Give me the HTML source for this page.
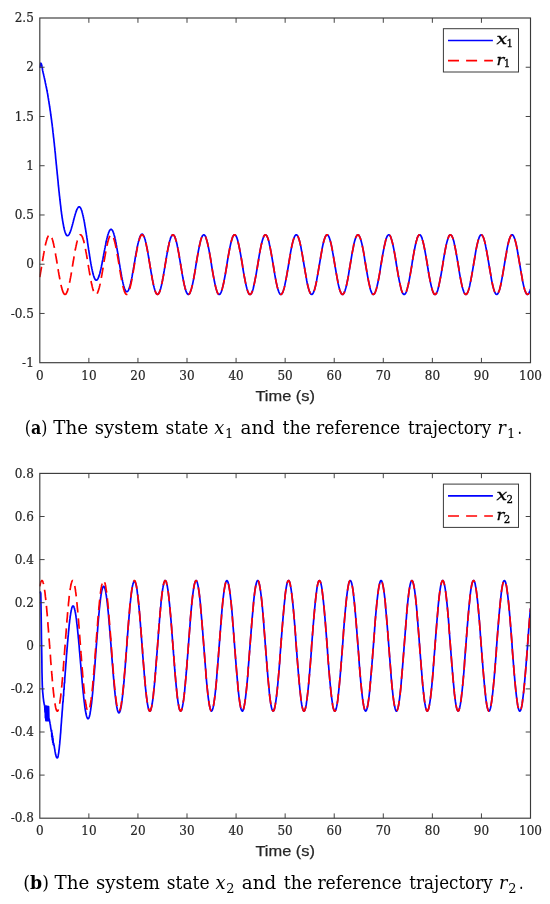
<!DOCTYPE html>
<html><head><meta charset="utf-8"><title>Figure</title>
<style>html,body{margin:0;padding:0;background:#fff}svg{display:block}</style>
</head><body>
<svg width="550" height="904" viewBox="0 0 550 904">
<rect width="550" height="904" fill="#fff"/>
<defs><clipPath id="c1"><rect x="39.3" y="18.0" width="491.7" height="344.7"/></clipPath><clipPath id="c2"><rect x="39.3" y="473.4" width="491.7" height="344.80000000000007"/></clipPath></defs>
<g clip-path="url(#c1)" fill="none" stroke-linejoin="round">
<path d="M39.8,67.8 L40.0,66.4 L40.3,65.1 L40.5,63.9 L40.8,63.2 L41.0,63.4 L41.3,63.8 L41.5,64.4 L41.8,65.4 L42.0,66.7 L42.3,68.1 L42.5,69.5 L42.7,70.9 L43.0,72.0 L43.2,73.0 L43.5,74.1 L43.7,75.2 L44.0,76.3 L44.2,77.4 L44.5,78.5 L44.7,79.6 L45.0,80.7 L45.2,81.9 L45.4,83.0 L45.7,84.2 L45.9,85.4 L46.2,86.6 L46.4,87.8 L46.7,89.1 L46.9,90.3 L47.2,91.6 L47.4,92.9 L47.7,94.3 L47.9,95.7 L48.1,97.2 L48.4,98.7 L48.6,100.2 L48.9,101.7 L49.1,103.3 L49.4,104.9 L49.6,106.5 L49.9,108.2 L50.1,109.8 L50.4,111.5 L50.6,113.2 L50.8,115.0 L51.1,116.7 L51.3,118.5 L51.6,120.4 L51.8,122.3 L52.1,124.2 L52.3,126.2 L52.6,128.3 L52.8,130.3 L53.0,132.4 L53.3,134.6 L53.5,136.8 L53.8,139.0 L54.0,141.3 L54.3,143.7 L54.5,146.0 L54.8,148.4 L55.0,150.9 L55.3,153.3 L55.5,155.8 L55.7,158.3 L56.0,160.8 L56.2,163.3 L56.5,165.8 L56.7,168.3 L57.0,170.8 L57.2,173.3 L57.5,175.8 L57.7,178.3 L58.0,180.8 L58.2,183.2 L58.4,185.7 L58.7,188.1 L58.9,190.5 L59.2,192.8 L59.4,195.1 L59.7,197.4 L59.9,199.7 L60.2,201.8 L60.4,204.0 L60.7,206.1 L60.9,208.1 L61.1,210.1 L61.4,212.0 L61.6,213.8 L61.9,215.6 L62.1,217.3 L62.4,219.0 L62.6,220.6 L62.9,222.1 L63.1,223.5 L63.4,224.8 L63.6,226.1 L63.8,227.3 L64.1,228.4 L64.3,229.5 L64.6,230.4 L64.8,231.3 L65.1,232.1 L65.3,232.8 L65.6,233.5 L65.8,234.0 L66.1,234.5 L66.3,234.9 L66.5,235.2 L66.8,235.4 L67.0,235.6 L67.3,235.7 L67.5,235.7 L67.8,235.7 L68.0,235.6 L68.3,235.4 L68.5,235.1 L68.8,234.8 L69.0,234.5 L69.2,234.1 L69.5,233.6 L69.7,233.1 L70.0,232.5 L70.2,231.9 L70.5,231.3 L70.7,230.6 L71.0,229.8 L71.2,229.0 L71.5,228.2 L71.7,227.4 L71.9,226.6 L72.2,225.7 L72.4,224.8 L72.7,223.9 L72.9,222.9 L73.2,222.0 L73.4,221.0 L73.7,220.1 L73.9,219.1 L74.1,218.2 L74.4,217.3 L74.6,216.4 L74.9,215.5 L75.1,214.7 L75.4,213.8 L75.6,213.0 L75.9,212.3 L76.1,211.6 L76.4,210.9 L76.6,210.3 L76.8,209.7 L77.1,209.1 L77.3,208.6 L77.6,208.2 L77.8,207.8 L78.1,207.5 L78.3,207.2 L78.6,207.0 L78.8,206.9 L79.1,206.8 L79.3,206.8 L79.5,206.9 L79.8,207.0 L80.0,207.3 L80.3,207.5 L80.5,207.9 L80.8,208.3 L81.0,208.9 L81.3,209.4 L81.5,210.1 L81.8,210.8 L82.0,211.6 L82.2,212.5 L82.5,213.4 L82.7,214.4 L83.0,215.4 L83.2,216.5 L83.5,217.7 L83.7,218.9 L84.0,220.1 L84.2,221.4 L84.5,222.8 L84.7,224.2 L84.9,225.6 L85.2,227.1 L85.4,228.5 L85.7,230.1 L85.9,231.6 L86.2,233.2 L86.4,234.7 L86.7,236.3 L86.9,237.9 L87.2,239.6 L87.4,241.2 L87.6,242.8 L87.9,244.5 L88.1,246.1 L88.4,247.8 L88.6,249.4 L88.9,251.0 L89.1,252.6 L89.4,254.2 L89.6,255.8 L89.9,257.3 L90.1,258.9 L90.3,260.3 L90.6,261.8 L90.8,263.2 L91.1,264.6 L91.3,265.9 L91.6,267.2 L91.8,268.4 L92.1,269.6 L92.3,270.7 L92.6,271.8 L92.8,272.8 L93.0,273.8 L93.3,274.7 L93.5,275.5 L93.8,276.3 L94.0,277.0 L94.3,277.6 L94.5,278.2 L94.8,278.7 L95.0,279.1 L95.2,279.5 L95.5,279.7 L95.7,280.0 L96.0,280.1 L96.2,280.2 L96.5,280.2 L96.7,280.1 L97.0,280.0 L97.2,279.7 L97.5,279.4 L97.7,279.1 L97.9,278.7 L98.2,278.2 L98.4,277.6 L98.7,277.0 L98.9,276.3 L99.2,275.6 L99.4,274.8 L99.7,274.0 L99.9,273.1 L100.2,272.1 L100.4,271.1 L100.6,270.1 L100.9,269.0 L101.1,267.9 L101.4,266.7 L101.6,265.5 L101.9,264.3 L102.1,263.0 L102.4,261.8 L102.6,260.5 L102.9,259.2 L103.1,257.9 L103.3,256.6 L103.6,255.2 L103.8,253.9 L104.1,252.6 L104.3,251.3 L104.6,249.9 L104.8,248.6 L105.1,247.4 L105.3,246.1 L105.6,244.9 L105.8,243.7 L106.0,242.5 L106.3,241.3 L106.5,240.2 L106.8,239.2 L107.0,238.1 L107.3,237.2 L107.5,236.2 L107.8,235.3 L108.0,234.5 L108.3,233.7 L108.5,233.0 L108.7,232.4 L109.0,231.8 L109.2,231.2 L109.5,230.8 L109.7,230.3 L110.0,230.0 L110.2,229.7 L110.5,229.5 L110.7,229.4 L111.0,229.3 L111.2,229.3 L111.4,229.4 L111.7,229.5 L111.9,229.8 L112.2,230.1 L112.4,230.4 L112.7,230.9 L112.9,231.4 L113.2,232.0 L113.4,232.6 L113.7,233.3 L113.9,234.1 L114.1,234.9 L114.4,235.8 L114.6,236.8 L114.9,237.8 L115.1,238.9 L115.4,240.0 L115.6,241.2 L115.9,242.4 L116.1,243.7 L116.3,245.0 L116.6,246.3 L116.8,247.7 L117.1,249.1 L117.3,250.6 L117.6,252.0 L117.8,253.5 L118.1,255.0 L118.3,256.5 L118.6,258.0 L118.8,259.6 L119.0,261.1 L119.3,262.6 L119.5,264.1 L119.8,265.7 L120.0,267.2 L120.3,268.7 L120.5,270.1 L120.8,271.6 L121.0,273.0 L121.3,274.4 L121.5,275.7 L121.7,277.0 L122.0,278.3 L122.2,279.5 L122.5,280.7 L122.7,281.9 L123.0,283.0 L123.2,284.0 L123.5,285.0 L123.7,285.9 L124.0,286.8 L124.2,287.5 L124.4,288.3 L124.7,288.9 L124.9,289.5 L125.2,290.1 L125.4,290.5 L125.7,290.9 L125.9,291.2 L126.2,291.4 L126.4,291.6 L126.7,291.7 L126.9,291.7 L127.1,291.6 L127.4,291.5 L127.6,291.3 L127.9,291.0 L128.1,290.7 L128.4,290.2 L128.6,289.8 L128.9,289.2 L129.1,288.6 L129.4,287.9 L129.6,287.1 L129.8,286.3 L130.1,285.4 L130.3,284.5 L130.6,283.5 L130.8,282.4 L131.1,281.3 L131.3,280.2 L131.6,279.0 L131.8,277.8 L132.1,276.5 L132.3,275.2 L132.5,273.9 L132.8,272.5 L133.0,271.1 L133.3,269.7 L133.5,268.3 L133.8,266.9 L134.0,265.4 L134.3,264.0 L134.5,262.5 L134.8,261.1 L135.0,259.6 L135.2,258.2 L135.5,256.8 L135.7,255.4 L136.0,254.0 L136.2,252.6 L136.5,251.3 L136.7,250.0 L137.0,248.7 L137.2,247.4 L137.4,246.2 L137.7,245.1 L137.9,244.0 L138.2,242.9 L138.4,241.9 L138.7,240.9 L138.9,240.0 L139.2,239.2 L139.4,238.4 L139.7,237.6 L139.9,237.0 L140.1,236.4 L140.4,235.9 L140.6,235.4 L140.9,235.0 L141.1,234.7 L141.4,234.5 L141.6,234.3 L141.9,234.2 L142.1,234.2 L142.4,234.2 L142.6,234.3 L142.8,234.5 L143.1,234.8 L143.3,235.2 L143.6,235.6 L143.8,236.1 L144.1,236.6 L144.3,237.3 L144.6,237.9 L144.8,238.7 L145.1,239.5 L145.3,240.4 L145.5,241.4 L145.8,242.3 L146.0,243.4 L146.3,244.5 L146.5,245.7 L146.8,246.9 L147.0,248.1 L147.3,249.4 L147.5,250.7 L147.8,252.1 L148.0,253.5 L148.2,254.9 L148.5,256.3 L148.7,257.8 L149.0,259.2 L149.2,260.7 L149.5,262.2 L149.7,263.7 L150.0,265.2 L150.2,266.7 L150.5,268.2 L150.7,269.7 L150.9,271.1 L151.2,272.6 L151.4,274.0 L151.7,275.4 L151.9,276.8 L152.2,278.2 L152.4,279.5 L152.7,280.7 L152.9,282.0 L153.2,283.2 L153.4,284.3 L153.6,285.4 L153.9,286.4 L154.1,287.4 L154.4,288.4 L154.6,289.2 L154.9,290.0 L155.1,290.8 L155.4,291.5 L155.6,292.1 L155.9,292.6 L156.1,293.1 L156.3,293.5 L156.6,293.8 L156.8,294.0 L157.1,294.2 L157.3,294.3 L157.6,294.3 L157.8,294.3 L158.1,294.2 L158.3,294.0 L158.5,293.7 L158.8,293.4 L159.0,293.0 L159.3,292.5 L159.5,291.9 L159.8,291.3 L160.0,290.6 L160.3,289.9 L160.5,289.0 L160.8,288.2 L161.0,287.2 L161.2,286.2 L161.5,285.2 L161.7,284.1 L162.0,282.9 L162.2,281.7 L162.5,280.5 L162.7,279.2 L163.0,277.9 L163.2,276.5 L163.5,275.2 L163.7,273.8 L163.9,272.3 L164.2,270.9 L164.4,269.4 L164.7,267.9 L164.9,266.5 L165.2,265.0 L165.4,263.5 L165.7,262.0 L165.9,260.5 L166.2,259.0 L166.4,257.6 L166.6,256.1 L166.9,254.7 L167.1,253.3 L167.4,252.0 L167.6,250.6 L167.9,249.3 L168.1,248.1 L168.4,246.8 L168.6,245.7 L168.9,244.5 L169.1,243.5 L169.3,242.4 L169.6,241.5 L169.8,240.6 L170.1,239.7 L170.3,238.9 L170.6,238.2 L170.8,237.5 L171.1,236.9 L171.3,236.4 L171.6,236.0 L171.8,235.6 L172.0,235.3 L172.3,235.0 L172.5,234.9 L172.8,234.8 L173.0,234.8 L173.3,234.8 L173.5,235.0 L173.8,235.2 L174.0,235.5 L174.3,235.8 L174.5,236.2 L174.7,236.7 L175.0,237.3 L175.2,238.0 L175.5,238.7 L175.7,239.4 L176.0,240.3 L176.2,241.2 L176.5,242.1 L176.7,243.1 L177.0,244.2 L177.2,245.3 L177.4,246.4 L177.7,247.7 L177.9,248.9 L178.2,250.2 L178.4,251.5 L178.7,252.9 L178.9,254.3 L179.2,255.7 L179.4,257.1 L179.6,258.6 L179.9,260.0 L180.1,261.5 L180.4,263.0 L180.6,264.5 L180.9,266.0 L181.1,267.5 L181.4,268.9 L181.6,270.4 L181.9,271.9 L182.1,273.3 L182.3,274.7 L182.6,276.1 L182.8,277.5 L183.1,278.8 L183.3,280.1 L183.6,281.4 L183.8,282.6 L184.1,283.7 L184.3,284.9 L184.6,285.9 L184.8,286.9 L185.0,287.9 L185.3,288.8 L185.5,289.6 L185.8,290.4 L186.0,291.1 L186.3,291.8 L186.5,292.4 L186.8,292.9 L187.0,293.3 L187.5,294.0 L188.0,294.4 L188.5,294.4 L189.0,294.2 L189.5,293.7 L190.0,292.9 L190.4,291.8 L190.9,290.4 L191.4,288.8 L191.9,286.9 L192.4,284.9 L192.9,282.6 L193.4,280.1 L193.9,277.5 L194.4,274.7 L194.9,271.9 L195.4,268.9 L195.8,266.0 L196.3,263.0 L196.8,260.0 L197.3,257.1 L197.8,254.3 L198.3,251.5 L198.8,248.9 L199.3,246.5 L199.8,244.2 L200.3,242.1 L200.7,240.3 L201.2,238.7 L201.7,237.3 L202.2,236.3 L202.7,235.5 L203.2,235.0 L203.7,234.8 L204.2,234.9 L204.7,235.3 L205.2,236.0 L205.7,236.9 L206.1,238.2 L206.6,239.7 L207.1,241.5 L207.6,243.5 L208.1,245.7 L208.6,248.1 L209.1,250.6 L209.6,253.3 L210.1,256.1 L210.6,259.0 L211.1,262.0 L211.5,265.0 L212.0,268.0 L212.5,270.9 L213.0,273.8 L213.5,276.6 L214.0,279.2 L214.5,281.8 L215.0,284.1 L215.5,286.3 L216.0,288.2 L216.5,289.9 L216.9,291.4 L217.4,292.6 L217.9,293.5 L218.4,294.1 L218.9,294.4 L219.4,294.4 L219.9,294.2 L220.4,293.6 L220.9,292.7 L221.4,291.6 L221.8,290.2 L222.3,288.5 L222.8,286.6 L223.3,284.5 L223.8,282.2 L224.3,279.7 L224.8,277.0 L225.3,274.3 L225.8,271.4 L226.3,268.5 L226.8,265.5 L227.2,262.5 L227.7,259.5 L228.2,256.6 L228.7,253.8 L229.2,251.1 L229.7,248.5 L230.2,246.1 L230.7,243.8 L231.2,241.8 L231.7,240.0 L232.2,238.4 L232.6,237.1 L233.1,236.1 L233.6,235.4 L234.1,234.9 L234.6,234.8 L235.1,234.9 L235.6,235.4 L236.1,236.1 L236.6,237.1 L237.1,238.4 L237.6,240.0 L238.0,241.8 L238.5,243.8 L239.0,246.1 L239.5,248.5 L240.0,251.1 L240.5,253.8 L241.0,256.6 L241.5,259.5 L242.0,262.5 L242.5,265.5 L242.9,268.5 L243.4,271.4 L243.9,274.3 L244.4,277.0 L244.9,279.7 L245.4,282.2 L245.9,284.5 L246.4,286.6 L246.9,288.5 L247.4,290.2 L247.9,291.6 L248.3,292.7 L248.8,293.6 L249.3,294.2 L249.8,294.4 L250.3,294.4 L250.8,294.1 L251.3,293.5 L251.8,292.6 L252.3,291.4 L252.8,289.9 L253.3,288.2 L253.7,286.3 L254.2,284.1 L254.7,281.8 L255.2,279.2 L255.7,276.6 L256.2,273.8 L256.7,270.9 L257.2,268.0 L257.7,265.0 L258.2,262.0 L258.7,259.0 L259.1,256.1 L259.6,253.3 L260.1,250.6 L260.6,248.1 L261.1,245.7 L261.6,243.5 L262.1,241.5 L262.6,239.7 L263.1,238.2 L263.6,236.9 L264.0,236.0 L264.5,235.3 L265.0,234.9 L265.5,234.8 L266.0,235.0 L266.5,235.5 L267.0,236.3 L267.5,237.3 L268.0,238.7 L268.5,240.3 L269.0,242.1 L269.4,244.2 L269.9,246.5 L270.4,248.9 L270.9,251.5 L271.4,254.3 L271.9,257.1 L272.4,260.0 L272.9,263.0 L273.4,266.0 L273.9,269.0 L274.4,271.9 L274.8,274.7 L275.3,277.5 L275.8,280.1 L276.3,282.6 L276.8,284.9 L277.3,287.0 L277.8,288.8 L278.3,290.4 L278.8,291.8 L279.3,292.9 L279.8,293.7 L280.2,294.2 L280.7,294.4 L281.2,294.4 L281.7,294.0 L282.2,293.3 L282.7,292.4 L283.2,291.1 L283.7,289.6 L284.2,287.9 L284.7,285.9 L285.1,283.7 L285.6,281.3 L286.1,278.8 L286.6,276.1 L287.1,273.3 L287.6,270.4 L288.1,267.5 L288.6,264.5 L289.1,261.5 L289.6,258.5 L290.1,255.7 L290.5,252.9 L291.0,250.2 L291.5,247.6 L292.0,245.3 L292.5,243.1 L293.0,241.1 L293.5,239.4 L294.0,238.0 L294.5,236.7 L295.0,235.8 L295.5,235.2 L295.9,234.8 L296.4,234.8 L296.9,235.0 L297.4,235.6 L297.9,236.4 L298.4,237.5 L298.9,238.9 L299.4,240.6 L299.9,242.4 L300.4,244.6 L300.9,246.9 L301.3,249.3 L301.8,252.0 L302.3,254.7 L302.8,257.6 L303.3,260.5 L303.8,263.5 L304.3,266.5 L304.8,269.4 L305.3,272.4 L305.8,275.2 L306.3,277.9 L306.7,280.5 L307.2,283.0 L307.7,285.2 L308.2,287.3 L308.7,289.1 L309.2,290.7 L309.7,292.0 L310.2,293.0 L310.7,293.8 L311.2,294.3 L311.6,294.4 L312.1,294.3 L312.6,293.9 L313.1,293.2 L313.6,292.2 L314.1,290.9 L314.6,289.4 L315.1,287.6 L315.6,285.6 L316.1,283.3 L316.6,280.9 L317.0,278.4 L317.5,275.6 L318.0,272.8 L318.5,269.9 L319.0,267.0 L319.5,264.0 L320.0,261.0 L320.5,258.1 L321.0,255.2 L321.5,252.4 L322.0,249.7 L322.4,247.2 L322.9,244.9 L323.4,242.8 L323.9,240.8 L324.4,239.2 L324.9,237.7 L325.4,236.6 L325.9,235.7 L326.4,235.1 L326.9,234.8 L327.4,234.8 L327.8,235.1 L328.3,235.7 L328.8,236.6 L329.3,237.7 L329.8,239.2 L330.3,240.9 L330.8,242.8 L331.3,244.9 L331.8,247.3 L332.3,249.8 L332.7,252.4 L333.2,255.2 L333.7,258.1 L334.2,261.0 L334.7,264.0 L335.2,267.0 L335.7,269.9 L336.2,272.8 L336.7,275.7 L337.2,278.4 L337.7,281.0 L338.1,283.4 L338.6,285.6 L339.1,287.6 L339.6,289.4 L340.1,290.9 L340.6,292.2 L341.1,293.2 L341.6,293.9 L342.1,294.3 L342.6,294.4 L343.1,294.3 L343.5,293.8 L344.0,293.0 L344.5,292.0 L345.0,290.7 L345.5,289.1 L346.0,287.3 L346.5,285.2 L347.0,282.9 L347.5,280.5 L348.0,277.9 L348.5,275.2 L348.9,272.3 L349.4,269.4 L349.9,266.5 L350.4,263.5 L350.9,260.5 L351.4,257.6 L351.9,254.7 L352.4,251.9 L352.9,249.3 L353.4,246.8 L353.8,244.5 L354.3,242.4 L354.8,240.5 L355.3,238.9 L355.8,237.5 L356.3,236.4 L356.8,235.6 L357.3,235.0 L357.8,234.8 L358.3,234.8 L358.8,235.2 L359.2,235.8 L359.7,236.8 L360.2,238.0 L360.7,239.4 L361.2,241.2 L361.7,243.1 L362.2,245.3 L362.7,247.7 L363.2,250.2 L363.7,252.9 L364.2,255.7 L364.6,258.6 L365.1,261.5 L365.6,264.5 L366.1,267.5 L366.6,270.4 L367.1,273.3 L367.6,276.1 L368.1,278.8 L368.6,281.4 L369.1,283.8 L369.6,285.9 L370.0,287.9 L370.5,289.7 L371.0,291.2 L371.5,292.4 L372.0,293.3 L372.5,294.0 L373.0,294.4 L373.5,294.4 L374.0,294.2 L374.5,293.7 L374.9,292.9 L375.4,291.8 L375.9,290.4 L376.4,288.8 L376.9,286.9 L377.4,284.8 L377.9,282.5 L378.4,280.1 L378.9,277.5 L379.4,274.7 L379.9,271.8 L380.3,268.9 L380.8,266.0 L381.3,263.0 L381.8,260.0 L382.3,257.1 L382.8,254.2 L383.3,251.5 L383.8,248.9 L384.3,246.4 L384.8,244.2 L385.3,242.1 L385.7,240.2 L386.2,238.6 L386.7,237.3 L387.2,236.2 L387.7,235.5 L388.2,235.0 L388.7,234.8 L389.2,234.9 L389.7,235.3 L390.2,236.0 L390.7,236.9 L391.1,238.2 L391.6,239.7 L392.1,241.5 L392.6,243.5 L393.1,245.7 L393.6,248.1 L394.1,250.7 L394.6,253.4 L395.1,256.2 L395.6,259.1 L396.0,262.0 L396.5,265.0 L397.0,268.0 L397.5,270.9 L398.0,273.8 L398.5,276.6 L399.0,279.3 L399.5,281.8 L400.0,284.1 L400.5,286.3 L401.0,288.2 L401.4,289.9 L401.9,291.4 L402.4,292.6 L402.9,293.5 L403.4,294.1 L403.9,294.4 L404.4,294.4 L404.9,294.1 L405.4,293.6 L405.9,292.7 L406.4,291.6 L406.8,290.2 L407.3,288.5 L407.8,286.6 L408.3,284.5 L408.8,282.1 L409.3,279.6 L409.8,277.0 L410.3,274.2 L410.8,271.4 L411.3,268.4 L411.8,265.5 L412.2,262.5 L412.7,259.5 L413.2,256.6 L413.7,253.8 L414.2,251.0 L414.7,248.5 L415.2,246.0 L415.7,243.8 L416.2,241.8 L416.7,240.0 L417.1,238.4 L417.6,237.1 L418.1,236.1 L418.6,235.4 L419.1,234.9 L419.6,234.8 L420.1,234.9 L420.6,235.4 L421.1,236.1 L421.6,237.1 L422.1,238.4 L422.5,240.0 L423.0,241.8 L423.5,243.8 L424.0,246.1 L424.5,248.5 L425.0,251.1 L425.5,253.8 L426.0,256.7 L426.5,259.6 L427.0,262.5 L427.5,265.5 L427.9,268.5 L428.4,271.4 L428.9,274.3 L429.4,277.1 L429.9,279.7 L430.4,282.2 L430.9,284.5 L431.4,286.6 L431.9,288.5 L432.4,290.2 L432.9,291.6 L433.3,292.7 L433.8,293.6 L434.3,294.2 L434.8,294.4 L435.3,294.4 L435.8,294.1 L436.3,293.5 L436.8,292.5 L437.3,291.4 L437.8,289.9 L438.2,288.2 L438.7,286.3 L439.2,284.1 L439.7,281.7 L440.2,279.2 L440.7,276.5 L441.2,273.8 L441.7,270.9 L442.2,267.9 L442.7,264.9 L443.2,262.0 L443.6,259.0 L444.1,256.1 L444.6,253.3 L445.1,250.6 L445.6,248.0 L446.1,245.6 L446.6,243.4 L447.1,241.4 L447.6,239.7 L448.1,238.2 L448.6,236.9 L449.0,235.9 L449.5,235.3 L450.0,234.9 L450.5,234.8 L451.0,235.0 L451.5,235.5 L452.0,236.3 L452.5,237.3 L453.0,238.7 L453.5,240.3 L454.0,242.1 L454.4,244.2 L454.9,246.5 L455.4,248.9 L455.9,251.5 L456.4,254.3 L456.9,257.1 L457.4,260.1 L457.9,263.0 L458.4,266.0 L458.9,269.0 L459.3,271.9 L459.8,274.8 L460.3,277.5 L460.8,280.1 L461.3,282.6 L461.8,284.9 L462.3,287.0 L462.8,288.8 L463.3,290.4 L463.8,291.8 L464.3,292.9 L464.7,293.7 L465.2,294.2 L465.7,294.4 L466.2,294.4 L466.7,294.0 L467.2,293.3 L467.7,292.4 L468.2,291.1 L468.7,289.6 L469.2,287.9 L469.7,285.9 L470.1,283.7 L470.6,281.3 L471.1,278.8 L471.6,276.1 L472.1,273.3 L472.6,270.4 L473.1,267.4 L473.6,264.4 L474.1,261.5 L474.6,258.5 L475.1,255.6 L475.5,252.8 L476.0,250.2 L476.5,247.6 L477.0,245.3 L477.5,243.1 L478.0,241.1 L478.5,239.4 L479.0,237.9 L479.5,236.7 L480.0,235.8 L480.4,235.2 L480.9,234.8 L481.4,234.8 L481.9,235.0 L482.4,235.6 L482.9,236.4 L483.4,237.5 L483.9,238.9 L484.4,240.6 L484.9,242.5 L485.4,244.6 L485.8,246.9 L486.3,249.4 L486.8,252.0 L487.3,254.8 L487.8,257.6 L488.3,260.6 L488.8,263.5 L489.3,266.5 L489.8,269.5 L490.3,272.4 L490.8,275.2 L491.2,278.0 L491.7,280.6 L492.2,283.0 L492.7,285.2 L493.2,287.3 L493.7,289.1 L494.2,290.7 L494.7,292.0 L495.2,293.1 L495.7,293.8 L496.2,294.3 L496.6,294.4 L497.1,294.3 L497.6,293.9 L498.1,293.2 L498.6,292.2 L499.1,290.9 L499.6,289.4 L500.1,287.6 L500.6,285.5 L501.1,283.3 L501.5,280.9 L502.0,278.3 L502.5,275.6 L503.0,272.8 L503.5,269.9 L504.0,266.9 L504.5,263.9 L505.0,261.0 L505.5,258.0 L506.0,255.2 L506.5,252.4 L506.9,249.7 L507.4,247.2 L507.9,244.9 L508.4,242.7 L508.9,240.8 L509.4,239.1 L509.9,237.7 L510.4,236.6 L510.9,235.7 L511.4,235.1 L511.9,234.8 L512.3,234.8 L512.8,235.1 L513.3,235.7 L513.8,236.6 L514.3,237.8 L514.8,239.2 L515.3,240.9 L515.8,242.8 L516.3,244.9 L516.8,247.3 L517.3,249.8 L517.7,252.5 L518.2,255.2 L518.7,258.1 L519.2,261.1 L519.7,264.0 L520.2,267.0 L520.7,270.0 L521.2,272.9 L521.7,275.7 L522.2,278.4 L522.6,281.0 L523.1,283.4 L523.6,285.6 L524.1,287.6 L524.6,289.4 L525.1,290.9 L525.6,292.2 L526.1,293.2 L526.6,293.9 L527.1,294.3 L527.6,294.4 L528.0,294.3 L528.5,293.8 L529.0,293.0 L529.5,292.0 L530.0,290.7 L530.5,289.1" stroke="#0000ff" stroke-width="1.7"/>
<path d="M39.8,277.0 L40.0,275.7 L40.3,274.3 L40.5,272.9 L40.8,271.4 L41.0,270.0 L41.3,268.5 L41.5,267.0 L41.8,265.5 L42.0,264.0 L42.3,262.5 L42.5,261.0 L42.7,259.6 L43.0,258.1 L43.2,256.6 L43.5,255.2 L43.7,253.8 L44.0,252.4 L44.2,251.1 L44.5,249.8 L44.7,248.5 L45.0,247.3 L45.2,246.1 L45.4,244.9 L45.7,243.8 L45.9,242.8 L46.2,241.8 L46.4,240.9 L46.7,240.0 L46.9,239.2 L47.2,238.4 L47.4,237.7 L47.7,237.1 L47.9,236.6 L48.1,236.1 L48.4,235.7 L48.6,235.4 L48.9,235.1 L49.1,234.9 L49.4,234.8 L49.6,234.8 L49.9,234.8 L50.1,234.9 L50.4,235.1 L50.6,235.4 L50.8,235.7 L51.1,236.1 L51.3,236.6 L51.6,237.1 L51.8,237.7 L52.1,238.4 L52.3,239.2 L52.6,240.0 L52.8,240.8 L53.0,241.8 L53.3,242.8 L53.5,243.8 L53.8,244.9 L54.0,246.0 L54.3,247.2 L54.5,248.5 L54.8,249.7 L55.0,251.1 L55.3,252.4 L55.5,253.8 L55.7,255.2 L56.0,256.6 L56.2,258.0 L56.5,259.5 L56.7,261.0 L57.0,262.5 L57.2,264.0 L57.5,265.5 L57.7,266.9 L58.0,268.4 L58.2,269.9 L58.4,271.4 L58.7,272.8 L58.9,274.2 L59.2,275.6 L59.4,277.0 L59.7,278.3 L59.9,279.7 L60.2,280.9 L60.4,282.2 L60.7,283.3 L60.9,284.5 L61.1,285.6 L61.4,286.6 L61.6,287.6 L61.9,288.5 L62.1,289.4 L62.4,290.2 L62.6,290.9 L62.9,291.6 L63.1,292.2 L63.4,292.7 L63.6,293.2 L63.8,293.6 L64.1,293.9 L64.3,294.1 L64.6,294.3 L64.8,294.4 L65.1,294.4 L65.3,294.4 L65.6,294.3 L65.8,294.1 L66.1,293.8 L66.3,293.5 L66.5,293.0 L66.8,292.6 L67.0,292.0 L67.3,291.4 L67.5,290.7 L67.8,289.9 L68.0,289.1 L68.3,288.2 L68.5,287.3 L68.8,286.3 L69.0,285.2 L69.2,284.1 L69.5,283.0 L69.7,281.8 L70.0,280.5 L70.2,279.3 L70.5,277.9 L70.7,276.6 L71.0,275.2 L71.2,273.8 L71.5,272.4 L71.7,270.9 L71.9,269.5 L72.2,268.0 L72.4,266.5 L72.7,265.0 L72.9,263.5 L73.2,262.0 L73.4,260.5 L73.7,259.1 L73.9,257.6 L74.1,256.2 L74.4,254.7 L74.6,253.4 L74.9,252.0 L75.1,250.6 L75.4,249.3 L75.6,248.1 L75.9,246.9 L76.1,245.7 L76.4,244.6 L76.6,243.5 L76.8,242.5 L77.1,241.5 L77.3,240.6 L77.6,239.7 L77.8,238.9 L78.1,238.2 L78.3,237.5 L78.6,236.9 L78.8,236.4 L79.1,236.0 L79.3,235.6 L79.5,235.3 L79.8,235.0 L80.0,234.9 L80.3,234.8 L80.5,234.8 L80.8,234.8 L81.0,235.0 L81.3,235.2 L81.5,235.5 L81.8,235.8 L82.0,236.2 L82.2,236.7 L82.5,237.3 L82.7,237.9 L83.0,238.7 L83.2,239.4 L83.5,240.3 L83.7,241.1 L84.0,242.1 L84.2,243.1 L84.5,244.2 L84.7,245.3 L84.9,246.4 L85.2,247.6 L85.4,248.9 L85.7,250.2 L85.9,251.5 L86.2,252.9 L86.4,254.2 L86.7,255.7 L86.9,257.1 L87.2,258.5 L87.4,260.0 L87.6,261.5 L87.9,263.0 L88.1,264.5 L88.4,266.0 L88.6,267.4 L88.9,268.9 L89.1,270.4 L89.4,271.9 L89.6,273.3 L89.9,274.7 L90.1,276.1 L90.3,277.5 L90.6,278.8 L90.8,280.1 L91.1,281.3 L91.3,282.6 L91.6,283.7 L91.8,284.8 L92.1,285.9 L92.3,286.9 L92.6,287.9 L92.8,288.8 L93.0,289.6 L93.3,290.4 L93.5,291.1 L93.8,291.8 L94.0,292.4 L94.3,292.9 L94.5,293.3 L94.8,293.7 L95.0,294.0 L95.2,294.2 L95.5,294.4 L95.7,294.4 L96.0,294.4 L96.2,294.4 L96.5,294.2 L96.7,294.0 L97.0,293.7 L97.2,293.3 L97.5,292.9 L97.7,292.4 L97.9,291.8 L98.2,291.2 L98.4,290.4 L98.7,289.7 L98.9,288.8 L99.2,287.9 L99.4,287.0 L99.7,285.9 L99.9,284.9 L100.2,283.7 L100.4,282.6 L100.6,281.4 L100.9,280.1 L101.1,278.8 L101.4,277.5 L101.6,276.1 L101.9,274.7 L102.1,273.3 L102.4,271.9 L102.6,270.4 L102.9,269.0 L103.1,267.5 L103.3,266.0 L103.6,264.5 L103.8,263.0 L104.1,261.5 L104.3,260.0 L104.6,258.6 L104.8,257.1 L105.1,255.7 L105.3,254.3 L105.6,252.9 L105.8,251.5 L106.0,250.2 L106.3,248.9 L106.5,247.7 L106.8,246.5 L107.0,245.3 L107.3,244.2 L107.5,243.1 L107.8,242.1 L108.0,241.2 L108.3,240.3 L108.5,239.4 L108.7,238.7 L109.0,238.0 L109.2,237.3 L109.5,236.8 L109.7,236.3 L110.0,235.8 L110.2,235.5 L110.5,235.2 L110.7,235.0 L111.0,234.8 L111.2,234.8 L111.4,234.8 L111.7,234.9 L111.9,235.0 L112.2,235.3 L112.4,235.6 L112.7,236.0 L112.9,236.4 L113.2,236.9 L113.4,237.5 L113.7,238.2 L113.9,238.9 L114.1,239.7 L114.4,240.5 L114.6,241.5 L114.9,242.4 L115.1,243.5 L115.4,244.5 L115.6,245.7 L115.9,246.8 L116.1,248.1 L116.3,249.3 L116.6,250.6 L116.8,252.0 L117.1,253.3 L117.3,254.7 L117.6,256.1 L117.8,257.6 L118.1,259.0 L118.3,260.5 L118.6,262.0 L118.8,263.5 L119.0,265.0 L119.3,266.5 L119.5,267.9 L119.8,269.4 L120.0,270.9 L120.3,272.3 L120.5,273.8 L120.8,275.2 L121.0,276.6 L121.3,277.9 L121.5,279.2 L121.7,280.5 L122.0,281.8 L122.2,283.0 L122.5,284.1 L122.7,285.2 L123.0,286.3 L123.2,287.3 L123.5,288.2 L123.7,289.1 L124.0,289.9 L124.2,290.7 L124.4,291.4 L124.7,292.0 L124.9,292.5 L125.2,293.0 L125.4,293.5 L125.7,293.8 L125.9,294.1 L126.2,294.3 L126.4,294.4 L126.7,294.4 L126.9,294.4 L127.1,294.3 L127.4,294.2 L127.6,293.9 L127.9,293.6 L128.1,293.2 L128.4,292.7 L128.6,292.2 L128.9,291.6 L129.1,290.9 L129.4,290.2 L129.6,289.4 L129.8,288.5 L130.1,287.6 L130.3,286.6 L130.6,285.6 L130.8,284.5 L131.1,283.4 L131.3,282.2 L131.6,281.0 L131.8,279.7 L132.1,278.4 L132.3,277.0 L132.5,275.7 L132.8,274.3 L133.0,272.8 L133.3,271.4 L133.5,269.9 L133.8,268.5 L134.0,267.0 L134.3,265.5 L134.5,264.0 L134.8,262.5 L135.0,261.0 L135.2,259.5 L135.5,258.1 L135.7,256.6 L136.0,255.2 L136.2,253.8 L136.5,252.4 L136.7,251.1 L137.0,249.8 L137.2,248.5 L137.4,247.3 L137.7,246.1 L137.9,244.9 L138.2,243.8 L138.4,242.8 L138.7,241.8 L138.9,240.9 L139.2,240.0 L139.4,239.2 L139.7,238.4 L139.9,237.7 L140.1,237.1 L140.4,236.6 L140.6,236.1 L140.9,235.7 L141.1,235.4 L141.4,235.1 L141.6,234.9 L141.9,234.8 L142.1,234.8 L142.4,234.8 L142.6,234.9 L142.8,235.1 L143.1,235.4 L143.3,235.7 L143.6,236.1 L143.8,236.6 L144.1,237.1 L144.3,237.7 L144.6,238.4 L144.8,239.2 L145.1,240.0 L145.3,240.8 L145.5,241.8 L145.8,242.8 L146.0,243.8 L146.3,244.9 L146.5,246.1 L146.8,247.2 L147.0,248.5 L147.3,249.8 L147.5,251.1 L147.8,252.4 L148.0,253.8 L148.2,255.2 L148.5,256.6 L148.7,258.1 L149.0,259.5 L149.2,261.0 L149.5,262.5 L149.7,264.0 L150.0,265.5 L150.2,267.0 L150.5,268.4 L150.7,269.9 L150.9,271.4 L151.2,272.8 L151.4,274.2 L151.7,275.6 L151.9,277.0 L152.2,278.4 L152.4,279.7 L152.7,280.9 L152.9,282.2 L153.2,283.3 L153.4,284.5 L153.6,285.6 L153.9,286.6 L154.1,287.6 L154.4,288.5 L154.6,289.4 L154.9,290.2 L155.1,290.9 L155.4,291.6 L155.6,292.2 L155.9,292.7 L156.1,293.2 L156.3,293.6 L156.6,293.9 L156.8,294.1 L157.1,294.3 L157.3,294.4 L157.6,294.4 L157.8,294.4 L158.1,294.3 L158.3,294.1 L158.5,293.8 L158.8,293.5 L159.0,293.0 L159.3,292.6 L159.5,292.0 L159.8,291.4 L160.0,290.7 L160.3,289.9 L160.5,289.1 L160.8,288.2 L161.0,287.3 L161.2,286.3 L161.5,285.2 L161.7,284.1 L162.0,283.0 L162.2,281.8 L162.5,280.5 L162.7,279.2 L163.0,277.9 L163.2,276.6 L163.5,275.2 L163.7,273.8 L163.9,272.4 L164.2,270.9 L164.4,269.4 L164.7,268.0 L164.9,266.5 L165.2,265.0 L165.4,263.5 L165.7,262.0 L165.9,260.5 L166.2,259.1 L166.4,257.6 L166.6,256.2 L166.9,254.7 L167.1,253.3 L167.4,252.0 L167.6,250.6 L167.9,249.3 L168.1,248.1 L168.4,246.9 L168.6,245.7 L168.9,244.5 L169.1,243.5 L169.3,242.4 L169.6,241.5 L169.8,240.6 L170.1,239.7 L170.3,238.9 L170.6,238.2 L170.8,237.5 L171.1,236.9 L171.3,236.4 L171.6,236.0 L171.8,235.6 L172.0,235.3 L172.3,235.0 L172.5,234.9 L172.8,234.8 L173.0,234.8 L173.3,234.8 L173.5,235.0 L173.8,235.2 L174.0,235.5 L174.3,235.8 L174.5,236.2 L174.7,236.7 L175.0,237.3 L175.2,238.0 L175.5,238.7 L175.7,239.4 L176.0,240.3 L176.2,241.2 L176.5,242.1 L176.7,243.1 L177.0,244.2 L177.2,245.3 L177.4,246.4 L177.7,247.7 L177.9,248.9 L178.2,250.2 L178.4,251.5 L178.7,252.9 L178.9,254.3 L179.2,255.7 L179.4,257.1 L179.6,258.6 L179.9,260.0 L180.1,261.5 L180.4,263.0 L180.6,264.5 L180.9,266.0 L181.1,267.5 L181.4,268.9 L181.6,270.4 L181.9,271.9 L182.1,273.3 L182.3,274.7 L182.6,276.1 L182.8,277.5 L183.1,278.8 L183.3,280.1 L183.6,281.4 L183.8,282.6 L184.1,283.7 L184.3,284.9 L184.6,285.9 L184.8,286.9 L185.0,287.9 L185.3,288.8 L185.5,289.6 L185.8,290.4 L186.0,291.1 L186.3,291.8 L186.5,292.4 L186.8,292.9 L187.0,293.3 L187.5,294.0 L188.0,294.4 L188.5,294.4 L189.0,294.2 L189.5,293.7 L190.0,292.9 L190.4,291.8 L190.9,290.4 L191.4,288.8 L191.9,286.9 L192.4,284.9 L192.9,282.6 L193.4,280.1 L193.9,277.5 L194.4,274.7 L194.9,271.9 L195.4,268.9 L195.8,266.0 L196.3,263.0 L196.8,260.0 L197.3,257.1 L197.8,254.3 L198.3,251.5 L198.8,248.9 L199.3,246.5 L199.8,244.2 L200.3,242.1 L200.7,240.3 L201.2,238.7 L201.7,237.3 L202.2,236.3 L202.7,235.5 L203.2,235.0 L203.7,234.8 L204.2,234.9 L204.7,235.3 L205.2,236.0 L205.7,236.9 L206.1,238.2 L206.6,239.7 L207.1,241.5 L207.6,243.5 L208.1,245.7 L208.6,248.1 L209.1,250.6 L209.6,253.3 L210.1,256.1 L210.6,259.0 L211.1,262.0 L211.5,265.0 L212.0,268.0 L212.5,270.9 L213.0,273.8 L213.5,276.6 L214.0,279.2 L214.5,281.8 L215.0,284.1 L215.5,286.3 L216.0,288.2 L216.5,289.9 L216.9,291.4 L217.4,292.6 L217.9,293.5 L218.4,294.1 L218.9,294.4 L219.4,294.4 L219.9,294.2 L220.4,293.6 L220.9,292.7 L221.4,291.6 L221.8,290.2 L222.3,288.5 L222.8,286.6 L223.3,284.5 L223.8,282.2 L224.3,279.7 L224.8,277.0 L225.3,274.3 L225.8,271.4 L226.3,268.5 L226.8,265.5 L227.2,262.5 L227.7,259.5 L228.2,256.6 L228.7,253.8 L229.2,251.1 L229.7,248.5 L230.2,246.1 L230.7,243.8 L231.2,241.8 L231.7,240.0 L232.2,238.4 L232.6,237.1 L233.1,236.1 L233.6,235.4 L234.1,234.9 L234.6,234.8 L235.1,234.9 L235.6,235.4 L236.1,236.1 L236.6,237.1 L237.1,238.4 L237.6,240.0 L238.0,241.8 L238.5,243.8 L239.0,246.1 L239.5,248.5 L240.0,251.1 L240.5,253.8 L241.0,256.6 L241.5,259.5 L242.0,262.5 L242.5,265.5 L242.9,268.5 L243.4,271.4 L243.9,274.3 L244.4,277.0 L244.9,279.7 L245.4,282.2 L245.9,284.5 L246.4,286.6 L246.9,288.5 L247.4,290.2 L247.9,291.6 L248.3,292.7 L248.8,293.6 L249.3,294.2 L249.8,294.4 L250.3,294.4 L250.8,294.1 L251.3,293.5 L251.8,292.6 L252.3,291.4 L252.8,289.9 L253.3,288.2 L253.7,286.3 L254.2,284.1 L254.7,281.8 L255.2,279.2 L255.7,276.6 L256.2,273.8 L256.7,270.9 L257.2,268.0 L257.7,265.0 L258.2,262.0 L258.7,259.0 L259.1,256.1 L259.6,253.3 L260.1,250.6 L260.6,248.1 L261.1,245.7 L261.6,243.5 L262.1,241.5 L262.6,239.7 L263.1,238.2 L263.6,236.9 L264.0,236.0 L264.5,235.3 L265.0,234.9 L265.5,234.8 L266.0,235.0 L266.5,235.5 L267.0,236.3 L267.5,237.3 L268.0,238.7 L268.5,240.3 L269.0,242.1 L269.4,244.2 L269.9,246.5 L270.4,248.9 L270.9,251.5 L271.4,254.3 L271.9,257.1 L272.4,260.0 L272.9,263.0 L273.4,266.0 L273.9,269.0 L274.4,271.9 L274.8,274.7 L275.3,277.5 L275.8,280.1 L276.3,282.6 L276.8,284.9 L277.3,287.0 L277.8,288.8 L278.3,290.4 L278.8,291.8 L279.3,292.9 L279.8,293.7 L280.2,294.2 L280.7,294.4 L281.2,294.4 L281.7,294.0 L282.2,293.3 L282.7,292.4 L283.2,291.1 L283.7,289.6 L284.2,287.9 L284.7,285.9 L285.1,283.7 L285.6,281.3 L286.1,278.8 L286.6,276.1 L287.1,273.3 L287.6,270.4 L288.1,267.5 L288.6,264.5 L289.1,261.5 L289.6,258.5 L290.1,255.7 L290.5,252.9 L291.0,250.2 L291.5,247.6 L292.0,245.3 L292.5,243.1 L293.0,241.1 L293.5,239.4 L294.0,238.0 L294.5,236.7 L295.0,235.8 L295.5,235.2 L295.9,234.8 L296.4,234.8 L296.9,235.0 L297.4,235.6 L297.9,236.4 L298.4,237.5 L298.9,238.9 L299.4,240.6 L299.9,242.4 L300.4,244.6 L300.9,246.9 L301.3,249.3 L301.8,252.0 L302.3,254.7 L302.8,257.6 L303.3,260.5 L303.8,263.5 L304.3,266.5 L304.8,269.4 L305.3,272.4 L305.8,275.2 L306.3,277.9 L306.7,280.5 L307.2,283.0 L307.7,285.2 L308.2,287.3 L308.7,289.1 L309.2,290.7 L309.7,292.0 L310.2,293.0 L310.7,293.8 L311.2,294.3 L311.6,294.4 L312.1,294.3 L312.6,293.9 L313.1,293.2 L313.6,292.2 L314.1,290.9 L314.6,289.4 L315.1,287.6 L315.6,285.6 L316.1,283.3 L316.6,280.9 L317.0,278.4 L317.5,275.6 L318.0,272.8 L318.5,269.9 L319.0,267.0 L319.5,264.0 L320.0,261.0 L320.5,258.1 L321.0,255.2 L321.5,252.4 L322.0,249.7 L322.4,247.2 L322.9,244.9 L323.4,242.8 L323.9,240.8 L324.4,239.2 L324.9,237.7 L325.4,236.6 L325.9,235.7 L326.4,235.1 L326.9,234.8 L327.4,234.8 L327.8,235.1 L328.3,235.7 L328.8,236.6 L329.3,237.7 L329.8,239.2 L330.3,240.9 L330.8,242.8 L331.3,244.9 L331.8,247.3 L332.3,249.8 L332.7,252.4 L333.2,255.2 L333.7,258.1 L334.2,261.0 L334.7,264.0 L335.2,267.0 L335.7,269.9 L336.2,272.8 L336.7,275.7 L337.2,278.4 L337.7,281.0 L338.1,283.4 L338.6,285.6 L339.1,287.6 L339.6,289.4 L340.1,290.9 L340.6,292.2 L341.1,293.2 L341.6,293.9 L342.1,294.3 L342.6,294.4 L343.1,294.3 L343.5,293.8 L344.0,293.0 L344.5,292.0 L345.0,290.7 L345.5,289.1 L346.0,287.3 L346.5,285.2 L347.0,282.9 L347.5,280.5 L348.0,277.9 L348.5,275.2 L348.9,272.3 L349.4,269.4 L349.9,266.5 L350.4,263.5 L350.9,260.5 L351.4,257.6 L351.9,254.7 L352.4,251.9 L352.9,249.3 L353.4,246.8 L353.8,244.5 L354.3,242.4 L354.8,240.5 L355.3,238.9 L355.8,237.5 L356.3,236.4 L356.8,235.6 L357.3,235.0 L357.8,234.8 L358.3,234.8 L358.8,235.2 L359.2,235.8 L359.7,236.8 L360.2,238.0 L360.7,239.4 L361.2,241.2 L361.7,243.1 L362.2,245.3 L362.7,247.7 L363.2,250.2 L363.7,252.9 L364.2,255.7 L364.6,258.6 L365.1,261.5 L365.6,264.5 L366.1,267.5 L366.6,270.4 L367.1,273.3 L367.6,276.1 L368.1,278.8 L368.6,281.4 L369.1,283.8 L369.6,285.9 L370.0,287.9 L370.5,289.7 L371.0,291.2 L371.5,292.4 L372.0,293.3 L372.5,294.0 L373.0,294.4 L373.5,294.4 L374.0,294.2 L374.5,293.7 L374.9,292.9 L375.4,291.8 L375.9,290.4 L376.4,288.8 L376.9,286.9 L377.4,284.8 L377.9,282.5 L378.4,280.1 L378.9,277.5 L379.4,274.7 L379.9,271.8 L380.3,268.9 L380.8,266.0 L381.3,263.0 L381.8,260.0 L382.3,257.1 L382.8,254.2 L383.3,251.5 L383.8,248.9 L384.3,246.4 L384.8,244.2 L385.3,242.1 L385.7,240.2 L386.2,238.6 L386.7,237.3 L387.2,236.2 L387.7,235.5 L388.2,235.0 L388.7,234.8 L389.2,234.9 L389.7,235.3 L390.2,236.0 L390.7,236.9 L391.1,238.2 L391.6,239.7 L392.1,241.5 L392.6,243.5 L393.1,245.7 L393.6,248.1 L394.1,250.7 L394.6,253.4 L395.1,256.2 L395.6,259.1 L396.0,262.0 L396.5,265.0 L397.0,268.0 L397.5,270.9 L398.0,273.8 L398.5,276.6 L399.0,279.3 L399.5,281.8 L400.0,284.1 L400.5,286.3 L401.0,288.2 L401.4,289.9 L401.9,291.4 L402.4,292.6 L402.9,293.5 L403.4,294.1 L403.9,294.4 L404.4,294.4 L404.9,294.1 L405.4,293.6 L405.9,292.7 L406.4,291.6 L406.8,290.2 L407.3,288.5 L407.8,286.6 L408.3,284.5 L408.8,282.1 L409.3,279.6 L409.8,277.0 L410.3,274.2 L410.8,271.4 L411.3,268.4 L411.8,265.5 L412.2,262.5 L412.7,259.5 L413.2,256.6 L413.7,253.8 L414.2,251.0 L414.7,248.5 L415.2,246.0 L415.7,243.8 L416.2,241.8 L416.7,240.0 L417.1,238.4 L417.6,237.1 L418.1,236.1 L418.6,235.4 L419.1,234.9 L419.6,234.8 L420.1,234.9 L420.6,235.4 L421.1,236.1 L421.6,237.1 L422.1,238.4 L422.5,240.0 L423.0,241.8 L423.5,243.8 L424.0,246.1 L424.5,248.5 L425.0,251.1 L425.5,253.8 L426.0,256.7 L426.5,259.6 L427.0,262.5 L427.5,265.5 L427.9,268.5 L428.4,271.4 L428.9,274.3 L429.4,277.1 L429.9,279.7 L430.4,282.2 L430.9,284.5 L431.4,286.6 L431.9,288.5 L432.4,290.2 L432.9,291.6 L433.3,292.7 L433.8,293.6 L434.3,294.2 L434.8,294.4 L435.3,294.4 L435.8,294.1 L436.3,293.5 L436.8,292.5 L437.3,291.4 L437.8,289.9 L438.2,288.2 L438.7,286.3 L439.2,284.1 L439.7,281.7 L440.2,279.2 L440.7,276.5 L441.2,273.8 L441.7,270.9 L442.2,267.9 L442.7,264.9 L443.2,262.0 L443.6,259.0 L444.1,256.1 L444.6,253.3 L445.1,250.6 L445.6,248.0 L446.1,245.6 L446.6,243.4 L447.1,241.4 L447.6,239.7 L448.1,238.2 L448.6,236.9 L449.0,235.9 L449.5,235.3 L450.0,234.9 L450.5,234.8 L451.0,235.0 L451.5,235.5 L452.0,236.3 L452.5,237.3 L453.0,238.7 L453.5,240.3 L454.0,242.1 L454.4,244.2 L454.9,246.5 L455.4,248.9 L455.9,251.5 L456.4,254.3 L456.9,257.1 L457.4,260.1 L457.9,263.0 L458.4,266.0 L458.9,269.0 L459.3,271.9 L459.8,274.8 L460.3,277.5 L460.8,280.1 L461.3,282.6 L461.8,284.9 L462.3,287.0 L462.8,288.8 L463.3,290.4 L463.8,291.8 L464.3,292.9 L464.7,293.7 L465.2,294.2 L465.7,294.4 L466.2,294.4 L466.7,294.0 L467.2,293.3 L467.7,292.4 L468.2,291.1 L468.7,289.6 L469.2,287.9 L469.7,285.9 L470.1,283.7 L470.6,281.3 L471.1,278.8 L471.6,276.1 L472.1,273.3 L472.6,270.4 L473.1,267.4 L473.6,264.4 L474.1,261.5 L474.6,258.5 L475.1,255.6 L475.5,252.8 L476.0,250.2 L476.5,247.6 L477.0,245.3 L477.5,243.1 L478.0,241.1 L478.5,239.4 L479.0,237.9 L479.5,236.7 L480.0,235.8 L480.4,235.2 L480.9,234.8 L481.4,234.8 L481.9,235.0 L482.4,235.6 L482.9,236.4 L483.4,237.5 L483.9,238.9 L484.4,240.6 L484.9,242.5 L485.4,244.6 L485.8,246.9 L486.3,249.4 L486.8,252.0 L487.3,254.8 L487.8,257.6 L488.3,260.6 L488.8,263.5 L489.3,266.5 L489.8,269.5 L490.3,272.4 L490.8,275.2 L491.2,278.0 L491.7,280.6 L492.2,283.0 L492.7,285.2 L493.2,287.3 L493.7,289.1 L494.2,290.7 L494.7,292.0 L495.2,293.1 L495.7,293.8 L496.2,294.3 L496.6,294.4 L497.1,294.3 L497.6,293.9 L498.1,293.2 L498.6,292.2 L499.1,290.9 L499.6,289.4 L500.1,287.6 L500.6,285.5 L501.1,283.3 L501.5,280.9 L502.0,278.3 L502.5,275.6 L503.0,272.8 L503.5,269.9 L504.0,266.9 L504.5,263.9 L505.0,261.0 L505.5,258.0 L506.0,255.2 L506.5,252.4 L506.9,249.7 L507.4,247.2 L507.9,244.9 L508.4,242.7 L508.9,240.8 L509.4,239.1 L509.9,237.7 L510.4,236.6 L510.9,235.7 L511.4,235.1 L511.9,234.8 L512.3,234.8 L512.8,235.1 L513.3,235.7 L513.8,236.6 L514.3,237.8 L514.8,239.2 L515.3,240.9 L515.8,242.8 L516.3,244.9 L516.8,247.3 L517.3,249.8 L517.7,252.5 L518.2,255.2 L518.7,258.1 L519.2,261.1 L519.7,264.0 L520.2,267.0 L520.7,270.0 L521.2,272.9 L521.7,275.7 L522.2,278.4 L522.6,281.0 L523.1,283.4 L523.6,285.6 L524.1,287.6 L524.6,289.4 L525.1,290.9 L525.6,292.2 L526.1,293.2 L526.6,293.9 L527.1,294.3 L527.6,294.4 L528.0,294.3 L528.5,293.8 L529.0,293.0 L529.5,292.0 L530.0,290.7 L530.5,289.1" stroke="#ff0000" stroke-width="1.7" stroke-dasharray="10.4 5.6 10.4 5.6 10.4 5.6 10.4 5.6 10.4 5.6 10.4 5.6 18 5.6 10.5 5.8 10.5 5.8 10.5 5.8 10.5 5.8 10.5 5.8 10.5 5.8 10.5 5.8 10.5 5.8 10.5 5.8 10.5 5.8 10.5 5.8 10.5 5.8 10.5 5.8 10.5 5.8 10.5 5.8 10.5 5.8 10.5 5.8 10.5 5.8 10.5 5.8 10.5 5.8 10.5 5.8 10.5 5.8 10.5 5.8 10.5 5.8 10.5 5.8 10.5 5.8 10.5 5.8 10.5 5.8 10.5 5.8 10.5 5.8 10.5 5.8 10.5 5.8 10.5 5.8 10.5 5.8 10.5 5.8 10.5 5.8 10.5 5.8 10.5 5.8 10.5 5.8 10.5 5.8 10.5 5.8 10.5 5.8 10.5 5.8 10.5 5.8 10.5 5.8 10.5 5.8 10.5 5.8 10.5 5.8 10.5 5.8 10.5 5.8 10.5 5.8 10.5 5.8 10.5 5.8 10.5 5.8 10.5 5.8 10.5 5.8 10.5 5.8 10.5 5.8 10.5 5.8 10.5 5.8 10.5 5.8 10.5 5.8 10.5 5.8 10.5 5.8 10.5 5.8 10.5 5.8 10.5 5.8 10.5 5.8 10.5 5.8 10.5 5.8 10.5 5.8 10.5 5.8 10.5 5.8 10.5 5.8 10.5 5.8 10.5 5.8 10.5 5.8 10.5 5.8 10.5 5.8 10.5 5.8 10.5 5.8 10.5 5.8 10.5 5.8 10.5 5.8 10.5 5.8 10.5 5.8 10.5 5.8 10.5 5.8 10.5 5.8 10.5 5.8 10.5 5.8 10.5 5.8 10.5 5.8 10.5 5.8 10.5 5.8 10.5 5.8 10.5 5.8 10.5 5.8 10.5 5.8 10.5 5.8 10.5 5.8 10.5 5.8 10.5 5.8 10.5 5.8 10.5 5.8 10.5 5.8 10.5 5.8 10.5 5.8 10.5 5.8 10.5 5.8 10.5 5.8 10.5 5.8 10.5 5.8 10.5 5.8 10.5 5.8 10.5 5.8 10.5 5.8 10.5 5.8 10.5 5.8 10.5 5.8 10.5 5.8 10.5 5.8 10.5 5.8 10.5 5.8 10.5 5.8 10.5 5.8 10.5 5.8 10.5 5.8 10.5 5.8 10.5 5.8 10.5 5.8 10.5 5.8 10.5 5.8 10.5 5.8 10.5 5.8 10.5 5.8 10.5 5.8 10.5 5.8 10.5 5.8 10.5 5.8 10.5 5.8 10.5 5.8 10.5 5.8 10.5 5.8 10.5 5.8 10.5 5.8 10.5 5.8 10.5 5.8 10.5 5.8 10.5 5.8 10.5 5.8 10.5 5.8 10.5 5.8 10.5 5.8 10.5 5.8 10.5 5.8 10.5 5.8 10.5 5.8 10.5 5.8 10.5 5.8 10.5 5.8 10.5 5.8 10.5 5.8 10.5 5.8 10.5 5.8 10.5 5.8 10.5 5.8 10.5 5.8 10.5 5.8 10.5 5.8 10.5 5.8 10.5 5.8 10.5 5.8 10.5 5.8 10.5 5.8 10.5 5.8 10.5 5.8 10.5 5.8 10.5 5.8 10.5 5.8 10.5 5.8 10.5 5.8 10.5 5.8 10.5 5.8 10.5 5.8 10.5 5.8 10.5 5.8 10.5 5.8 10.5 5.8 10.5 5.8 10.5 5.8 10.5 5.8 10.5 5.8 10.5 5.8 10.5 5.8 10.5 5.8 10.5 5.8 10.5 5.8 10.5 5.8 10.5 5.8 10.5 5.8 10.5 5.8 10.5 5.8 10.5 5.8 10.5 5.8 10.5 5.8 10.5 5.8 10.5 5.8 10.5 5.8 10.5 5.8 10.5 5.8 10.5 5.8 10.5 5.8 10.5 5.8 10.5 5.8"/>
</g>
<g stroke="#3a3a3a" stroke-width="1.15" fill="none">
<rect x="39.8" y="18.0" width="490.7" height="344.7"/>
<path stroke="#3a3a3a" stroke-width="0.95" d="M88.87,362.7v-4.8M88.87,18.0v4.8M137.94,362.7v-4.8M137.94,18.0v4.8M187.01,362.7v-4.8M187.01,18.0v4.8M236.08,362.7v-4.8M236.08,18.0v4.8M285.15,362.7v-4.8M285.15,18.0v4.8M334.22,362.7v-4.8M334.22,18.0v4.8M383.29,362.7v-4.8M383.29,18.0v4.8M432.36,362.7v-4.8M432.36,18.0v4.8M481.43,362.7v-4.8M481.43,18.0v4.8M39.8,67.24h4.8M530.5,67.24h-4.8M39.8,116.49h4.8M530.5,116.49h-4.8M39.8,165.73h4.8M530.5,165.73h-4.8M39.8,214.97h4.8M530.5,214.97h-4.8M39.8,264.21h4.8M530.5,264.21h-4.8M39.8,313.46h4.8M530.5,313.46h-4.8"/>
</g>
<g font-family="'DejaVu Serif','Liberation Serif',serif" font-size="12.0" fill="#262626" stroke="#262626" stroke-width="0.2">
<text x="39.8" y="379.7" text-anchor="middle">0</text>
<text x="88.9" y="379.7" text-anchor="middle">10</text>
<text x="137.9" y="379.7" text-anchor="middle">20</text>
<text x="187.0" y="379.7" text-anchor="middle">30</text>
<text x="236.1" y="379.7" text-anchor="middle">40</text>
<text x="285.1" y="379.7" text-anchor="middle">50</text>
<text x="334.2" y="379.7" text-anchor="middle">60</text>
<text x="383.3" y="379.7" text-anchor="middle">70</text>
<text x="432.4" y="379.7" text-anchor="middle">80</text>
<text x="481.4" y="379.7" text-anchor="middle">90</text>
<text x="530.5" y="379.7" text-anchor="middle">100</text>
<text x="33.8" y="22.2" text-anchor="end">2.5</text>
<text x="33.8" y="71.4" text-anchor="end">2</text>
<text x="33.8" y="120.7" text-anchor="end">1.5</text>
<text x="33.8" y="169.9" text-anchor="end">1</text>
<text x="33.8" y="219.2" text-anchor="end">0.5</text>
<text x="33.8" y="268.4" text-anchor="end">0</text>
<text x="33.8" y="317.7" text-anchor="end">-0.5</text>
<text x="33.8" y="366.9" text-anchor="end">-1</text>
</g>
<text x="255.4" y="400.6" textLength="59.6" lengthAdjust="spacingAndGlyphs" font-family="'Liberation Sans','DejaVu Sans',sans-serif" font-size="15" fill="#262626" stroke="#262626" stroke-width="0.25">Time (s)</text>
<rect x="443.4" y="28.7" width="75.10000000000002" height="43.3" fill="#fff" stroke="#3a3a3a" stroke-width="1.0"/>
<path d="M448,40.5H492.9" stroke="#0000ff" stroke-width="1.7"/>
<path d="M448,60.6H492.9" stroke="#ff0000" stroke-width="1.7" stroke-dasharray="11 7.1"/>
<g font-family="'DejaVu Serif','Liberation Serif',serif" fill="#000" stroke="#000" stroke-width="0.3">
<text transform="translate(496.4,44.4) scale(1.35,1)" font-size="14" font-style="italic">x</text>
<text x="506.4" y="47.2" font-size="10.2">1</text>
<text transform="translate(496.4,64.5) scale(1.17,1)" font-size="14" font-style="italic">r</text>
<text x="503.8" y="67.3" font-size="10.2">1</text>
</g>
<g clip-path="url(#c2)" fill="none" stroke-linejoin="round">
<path d="M39.8,593.3 L40.0,592.3 L40.3,592.0 L40.5,592.3 L40.8,593.4 L41.0,605.2 L41.3,624.2 L41.5,640.7 L41.8,656.6 L42.0,672.8 L42.3,685.0 L42.5,688.9 L42.7,692.1 L43.0,694.9 L43.2,697.3 L43.5,699.5 L43.7,701.3 L44.0,702.8 L44.2,704.0 L44.5,705.3 L44.7,705.9 L45.0,712.3 L45.2,706.0 L45.4,717.8 L45.7,706.1 L45.9,720.6 L46.2,706.2 L46.4,720.6 L46.7,706.3 L46.9,720.6 L47.2,706.4 L47.4,720.6 L47.7,706.5 L47.9,720.6 L48.1,706.6 L48.4,720.6 L48.6,706.7 L48.9,720.6 L49.1,718.7 L49.4,719.8 L49.6,721.1 L49.9,722.5 L50.1,723.9 L50.4,725.3 L50.6,726.8 L50.8,728.3 L51.1,729.8 L51.3,731.3 L51.6,730.2 L51.8,736.9 L52.1,733.2 L52.3,739.9 L52.6,736.1 L52.8,742.5 L53.0,738.5 L53.3,744.7 L53.5,743.1 L53.8,744.1 L54.0,745.3 L54.3,746.6 L54.5,748.1 L54.8,749.7 L55.0,751.2 L55.3,752.6 L55.5,753.8 L55.7,754.8 L56.0,755.8 L56.2,756.5 L56.5,757.1 L56.7,757.6 L57.0,757.8 L57.2,757.9 L57.5,757.8 L57.7,757.5 L58.0,756.8 L58.2,755.7 L58.4,754.4 L58.7,752.8 L58.9,750.9 L59.2,748.8 L59.4,746.5 L59.7,743.9 L59.9,741.2 L60.2,738.4 L60.4,735.4 L60.7,732.3 L60.9,729.1 L61.1,725.8 L61.4,722.5 L61.6,719.2 L61.9,715.9 L62.1,712.6 L62.4,709.4 L62.6,706.3 L62.9,701.6 L63.1,702.0 L63.4,695.5 L63.6,695.9 L63.8,689.3 L64.1,689.5 L64.3,682.9 L64.6,683.1 L64.8,678.1 L65.1,674.8 L65.3,671.6 L65.6,668.3 L65.8,665.1 L66.1,661.9 L66.3,658.7 L66.5,655.5 L66.8,652.4 L67.0,649.4 L67.3,646.3 L67.5,643.4 L67.8,640.5 L68.0,637.6 L68.3,634.9 L68.5,632.2 L68.8,629.6 L69.0,627.2 L69.2,624.8 L69.5,622.6 L69.7,620.4 L70.0,618.4 L70.2,616.6 L70.5,614.9 L70.7,613.3 L71.0,611.8 L71.2,610.5 L71.5,609.4 L71.7,608.4 L71.9,607.6 L72.2,606.9 L72.4,606.4 L72.7,606.1 L72.9,606.0 L73.2,606.0 L73.4,606.1 L73.7,606.4 L73.9,606.9 L74.1,607.5 L74.4,608.3 L74.6,609.2 L74.9,610.2 L75.1,611.4 L75.4,612.7 L75.6,614.1 L75.9,615.7 L76.1,617.4 L76.4,619.2 L76.6,621.1 L76.8,623.2 L77.1,625.3 L77.3,627.5 L77.6,629.9 L77.8,632.3 L78.1,634.8 L78.3,637.3 L78.6,639.9 L78.8,642.6 L79.1,645.4 L79.3,648.2 L79.5,651.0 L79.8,653.8 L80.0,656.7 L80.3,659.6 L80.5,662.5 L80.8,665.4 L81.0,668.3 L81.3,671.1 L81.5,674.0 L81.8,676.8 L82.0,679.6 L82.2,682.3 L82.5,685.0 L82.7,687.6 L83.0,690.2 L83.2,692.6 L83.5,695.0 L83.7,697.3 L84.0,699.6 L84.2,701.7 L84.5,703.7 L84.7,705.6 L84.9,707.4 L85.2,709.1 L85.4,710.6 L85.7,712.0 L85.9,713.3 L86.2,714.5 L86.4,715.5 L86.7,716.4 L86.9,717.1 L87.2,717.7 L87.4,718.2 L87.6,718.5 L87.9,718.7 L88.1,718.7 L88.4,718.6 L88.6,718.3 L88.9,717.9 L89.1,717.3 L89.4,716.5 L89.6,715.6 L89.9,714.5 L90.1,713.3 L90.3,711.9 L90.6,710.4 L90.8,708.7 L91.1,706.9 L91.3,705.0 L91.6,703.0 L91.8,700.8 L92.1,698.5 L92.3,696.1 L92.6,693.5 L92.8,690.9 L93.0,688.2 L93.3,685.4 L93.5,682.5 L93.8,679.5 L94.0,676.5 L94.3,673.4 L94.5,670.3 L94.8,667.1 L95.0,663.9 L95.2,660.6 L95.5,657.4 L95.7,654.1 L96.0,650.8 L96.2,647.5 L96.5,644.2 L96.7,641.0 L97.0,637.8 L97.2,634.6 L97.5,631.5 L97.7,628.4 L97.9,625.3 L98.2,622.4 L98.4,619.5 L98.7,616.7 L98.9,614.0 L99.2,611.3 L99.4,608.8 L99.7,606.4 L99.9,604.1 L100.2,601.9 L100.4,599.9 L100.6,598.0 L100.9,596.2 L101.1,594.5 L101.4,593.0 L101.6,591.6 L101.9,590.4 L102.1,589.4 L102.4,588.5 L102.6,587.7 L102.9,587.1 L103.1,586.7 L103.3,586.4 L103.6,586.3 L103.8,586.4 L104.1,586.6 L104.3,586.9 L104.6,587.5 L104.8,588.2 L105.1,589.0 L105.3,590.0 L105.6,591.1 L105.8,592.4 L106.0,593.9 L106.3,595.5 L106.5,597.2 L106.8,599.0 L107.0,601.0 L107.3,603.1 L107.5,605.4 L107.8,607.7 L108.0,610.1 L108.3,612.7 L108.5,615.3 L108.7,618.0 L109.0,620.8 L109.2,623.7 L109.5,626.6 L109.7,629.6 L110.0,632.7 L110.2,635.8 L110.5,638.9 L110.7,642.1 L111.0,645.2 L111.2,648.4 L111.4,651.6 L111.7,654.8 L111.9,657.9 L112.2,661.1 L112.4,664.2 L112.7,667.3 L112.9,670.3 L113.2,673.3 L113.4,676.2 L113.7,679.1 L113.9,681.9 L114.1,684.6 L114.4,687.2 L114.6,689.7 L114.9,692.1 L115.1,694.4 L115.4,696.6 L115.6,698.7 L115.9,700.6 L116.1,702.4 L116.3,704.1 L116.6,705.7 L116.8,707.1 L117.1,708.3 L117.3,709.4 L117.6,710.4 L117.8,711.2 L118.1,711.8 L118.3,712.3 L118.6,712.7 L118.8,712.8 L119.0,712.8 L119.3,712.7 L119.5,712.4 L119.8,711.9 L120.0,711.3 L120.3,710.5 L120.5,709.5 L120.8,708.4 L121.0,707.2 L121.3,705.8 L121.5,704.2 L121.7,702.5 L122.0,700.7 L122.2,698.7 L122.5,696.6 L122.7,694.4 L123.0,692.1 L123.2,689.6 L123.5,687.1 L123.7,684.4 L124.0,681.7 L124.2,678.9 L124.4,676.0 L124.7,673.0 L124.9,669.9 L125.2,666.8 L125.4,663.7 L125.7,660.5 L125.9,657.3 L126.2,654.0 L126.4,650.7 L126.7,647.5 L126.9,644.2 L127.1,640.9 L127.4,637.6 L127.6,634.4 L127.9,631.2 L128.1,628.0 L128.4,624.9 L128.6,621.9 L128.9,618.9 L129.1,615.9 L129.4,613.1 L129.6,610.3 L129.8,607.6 L130.1,605.0 L130.3,602.6 L130.6,600.2 L130.8,598.0 L131.1,595.8 L131.3,593.8 L131.6,592.0 L131.8,590.2 L132.1,588.6 L132.3,587.2 L132.5,585.9 L132.8,584.7 L133.0,583.8 L133.3,582.9 L133.5,582.2 L133.8,581.7 L134.0,581.4 L134.3,581.2 L134.5,581.2 L134.8,581.3 L135.0,581.6 L135.2,582.1 L135.5,582.7 L135.7,583.5 L136.0,584.4 L136.2,585.5 L136.5,586.7 L136.7,588.1 L137.0,589.7 L137.2,591.4 L137.4,593.2 L137.7,595.1 L137.9,597.2 L138.2,599.4 L138.4,601.7 L138.7,604.2 L138.9,606.7 L139.2,609.3 L139.4,612.1 L139.7,614.9 L139.9,617.8 L140.1,620.7 L140.4,623.7 L140.6,626.8 L140.9,630.0 L141.1,633.1 L141.4,636.3 L141.6,639.6 L141.9,642.8 L142.1,646.1 L142.4,649.3 L142.6,652.6 L142.8,655.8 L143.1,659.0 L143.3,662.2 L143.6,665.3 L143.8,668.4 L144.1,671.4 L144.3,674.4 L144.6,677.3 L144.8,680.1 L145.1,682.8 L145.3,685.4 L145.5,688.0 L145.8,690.4 L146.0,692.7 L146.3,695.0 L146.5,697.0 L146.8,699.0 L147.0,700.8 L147.3,702.5 L147.5,704.1 L147.8,705.5 L148.0,706.7 L148.2,707.8 L148.5,708.8 L148.7,709.6 L149.0,710.2 L149.2,710.7 L149.5,711.0 L149.7,711.1 L150.0,711.1 L150.2,710.9 L150.5,710.6 L150.7,710.1 L150.9,709.4 L151.2,708.6 L151.4,707.6 L151.7,706.5 L151.9,705.2 L152.2,703.8 L152.4,702.2 L152.7,700.5 L152.9,698.6 L153.2,696.6 L153.4,694.5 L153.6,692.3 L153.9,689.9 L154.1,687.5 L154.4,684.9 L154.6,682.2 L154.9,679.5 L155.1,676.6 L155.4,673.7 L155.6,670.7 L155.9,667.7 L156.1,664.6 L156.3,661.4 L156.6,658.3 L156.8,655.0 L157.1,651.8 L157.3,648.5 L157.6,645.3 L157.8,642.0 L158.1,638.8 L158.3,635.5 L158.5,632.3 L158.8,629.1 L159.0,626.0 L159.3,622.9 L159.5,619.9 L159.8,616.9 L160.0,614.0 L160.3,611.2 L160.5,608.5 L160.8,605.9 L161.0,603.3 L161.2,600.9 L161.5,598.6 L161.7,596.4 L162.0,594.3 L162.2,592.4 L162.5,590.6 L162.7,588.9 L163.0,587.4 L163.2,586.0 L163.5,584.8 L163.7,583.7 L163.9,582.7 L164.2,582.0 L164.4,581.4 L164.7,580.9 L164.9,580.6 L165.2,580.5 L165.4,580.5 L165.7,580.8 L165.9,581.1 L166.2,581.6 L166.4,582.3 L166.6,583.2 L166.9,584.2 L167.1,585.3 L167.4,586.6 L167.6,588.1 L167.9,589.7 L168.1,591.4 L168.4,593.3 L168.6,595.3 L168.9,597.5 L169.1,599.7 L169.3,602.1 L169.6,604.6 L169.8,607.1 L170.1,609.8 L170.3,612.6 L170.6,615.4 L170.8,618.4 L171.1,621.4 L171.3,624.4 L171.6,627.5 L171.8,630.7 L172.0,633.9 L172.3,637.1 L172.5,640.4 L172.8,643.6 L173.0,646.9 L173.3,650.1 L173.5,653.4 L173.8,656.6 L174.0,659.8 L174.3,663.0 L174.5,666.1 L174.7,669.2 L175.0,672.2 L175.2,675.2 L175.5,678.0 L175.7,680.8 L176.0,683.6 L176.2,686.2 L176.5,688.7 L176.7,691.1 L177.0,693.4 L177.2,695.6 L177.4,697.6 L177.7,699.5 L177.9,701.3 L178.2,703.0 L178.4,704.5 L178.7,705.8 L178.9,707.0 L179.2,708.1 L179.4,709.0 L179.6,709.7 L179.9,710.3 L180.1,710.7 L180.4,711.0 L180.6,711.1 L180.9,711.0 L181.1,710.8 L181.4,710.4 L181.6,709.9 L181.9,709.1 L182.1,708.3 L182.3,707.2 L182.6,706.1 L182.8,704.7 L183.1,703.2 L183.3,701.6 L183.6,699.9 L183.8,698.0 L184.1,695.9 L184.3,693.8 L184.6,691.5 L184.8,689.1 L185.0,686.6 L185.3,684.0 L185.5,681.3 L185.8,678.5 L186.0,675.7 L186.3,672.7 L186.5,669.7 L186.8,666.7 L187.0,663.5 L187.5,657.2 L188.0,650.7 L188.5,644.2 L189.0,637.7 L189.5,631.2 L190.0,625.0 L190.4,618.9 L190.9,613.1 L191.4,607.6 L191.9,602.5 L192.4,597.8 L192.9,593.7 L193.4,590.0 L193.9,586.9 L194.4,584.4 L194.9,582.5 L195.4,581.2 L195.8,580.6 L196.3,580.6 L196.8,581.3 L197.3,582.6 L197.8,584.6 L198.3,587.1 L198.8,590.3 L199.3,594.0 L199.8,598.2 L200.3,602.9 L200.7,608.0 L201.2,613.5 L201.7,619.4 L202.2,625.5 L202.7,631.8 L203.2,638.2 L203.7,644.7 L204.2,651.2 L204.7,657.7 L205.2,664.1 L205.7,670.2 L206.1,676.1 L206.6,681.8 L207.1,687.0 L207.6,691.9 L208.1,696.3 L208.6,700.1 L209.1,703.5 L209.6,706.3 L210.1,708.4 L210.6,710.0 L211.1,710.8 L211.5,711.1 L212.0,710.7 L212.5,709.6 L213.0,707.9 L213.5,705.6 L214.0,702.7 L214.5,699.2 L215.0,695.2 L215.5,690.7 L216.0,685.7 L216.5,680.4 L216.9,674.7 L217.4,668.7 L217.9,662.5 L218.4,656.1 L218.9,649.6 L219.4,643.1 L219.9,636.6 L220.4,630.2 L220.9,623.9 L221.4,617.9 L221.8,612.1 L222.3,606.7 L222.8,601.7 L223.3,597.1 L223.8,593.0 L224.3,589.4 L224.8,586.4 L225.3,584.0 L225.8,582.2 L226.3,581.0 L226.8,580.5 L227.2,580.7 L227.7,581.5 L228.2,582.9 L228.7,584.9 L229.2,587.6 L229.7,590.9 L230.2,594.7 L230.7,599.0 L231.2,603.7 L231.7,608.9 L232.2,614.5 L232.6,620.4 L233.1,626.5 L233.6,632.8 L234.1,639.3 L234.6,645.8 L235.1,652.3 L235.6,658.8 L236.1,665.1 L236.6,671.2 L237.1,677.1 L237.6,682.7 L238.0,687.9 L238.5,692.6 L239.0,697.0 L239.5,700.7 L240.0,704.0 L240.5,706.7 L241.0,708.7 L241.5,710.1 L242.0,710.9 L242.5,711.1 L242.9,710.6 L243.4,709.4 L243.9,707.6 L244.4,705.2 L244.9,702.2 L245.4,698.6 L245.9,694.5 L246.4,689.9 L246.9,684.9 L247.4,679.5 L247.9,673.7 L248.3,667.7 L248.8,661.4 L249.3,655.0 L249.8,648.5 L250.3,642.0 L250.8,635.5 L251.3,629.1 L251.8,622.9 L252.3,616.9 L252.8,611.2 L253.3,605.8 L253.7,600.9 L254.2,596.4 L254.7,592.4 L255.2,588.9 L255.7,586.0 L256.2,583.7 L256.7,582.0 L257.2,580.9 L257.7,580.5 L258.2,580.8 L258.7,581.7 L259.1,583.2 L259.6,585.3 L260.1,588.1 L260.6,591.5 L261.1,595.3 L261.6,599.7 L262.1,604.6 L262.6,609.8 L263.1,615.5 L263.6,621.4 L264.0,627.6 L264.5,633.9 L265.0,640.4 L265.5,646.9 L266.0,653.4 L266.5,659.9 L267.0,666.1 L267.5,672.2 L268.0,678.1 L268.5,683.6 L269.0,688.7 L269.4,693.4 L269.9,697.6 L270.4,701.3 L270.9,704.5 L271.4,707.1 L271.9,709.0 L272.4,710.3 L272.9,711.0 L273.4,711.0 L273.9,710.4 L274.4,709.1 L274.8,707.2 L275.3,704.7 L275.8,701.6 L276.3,697.9 L276.8,693.7 L277.3,689.1 L277.8,684.0 L278.3,678.5 L278.8,672.7 L279.3,666.6 L279.8,660.3 L280.2,653.9 L280.7,647.4 L281.2,640.9 L281.7,634.4 L282.2,628.0 L282.7,621.9 L283.2,615.9 L283.7,610.3 L284.2,605.0 L284.7,600.1 L285.1,595.7 L285.6,591.7 L286.1,588.4 L286.6,585.5 L287.1,583.3 L287.6,581.7 L288.1,580.8 L288.6,580.5 L289.1,580.9 L289.6,581.9 L290.1,583.5 L290.5,585.8 L291.0,588.6 L291.5,592.1 L292.0,596.0 L292.5,600.5 L293.0,605.4 L293.5,610.8 L294.0,616.4 L294.5,622.4 L295.0,628.6 L295.5,635.0 L295.9,641.5 L296.4,648.0 L296.9,654.5 L297.4,660.9 L297.9,667.2 L298.4,673.2 L298.9,679.0 L299.4,684.5 L299.9,689.5 L300.4,694.1 L300.9,698.3 L301.3,701.9 L301.8,705.0 L302.3,707.4 L302.8,709.3 L303.3,710.5 L303.8,711.1 L304.3,711.0 L304.8,710.2 L305.3,708.9 L305.8,706.8 L306.3,704.2 L306.7,701.0 L307.2,697.3 L307.7,693.0 L308.2,688.3 L308.7,683.1 L309.2,677.6 L309.7,671.7 L310.2,665.6 L310.7,659.3 L311.2,652.8 L311.6,646.3 L312.1,639.8 L312.6,633.3 L313.1,627.0 L313.6,620.8 L314.1,614.9 L314.6,609.4 L315.1,604.1 L315.6,599.3 L316.1,595.0 L316.6,591.1 L317.0,587.8 L317.5,585.1 L318.0,583.0 L318.5,581.5 L319.0,580.7 L319.5,580.5 L320.0,581.0 L320.5,582.1 L321.0,583.8 L321.5,586.2 L322.0,589.2 L322.4,592.7 L322.9,596.8 L323.4,601.3 L323.9,606.3 L324.4,611.7 L324.9,617.4 L325.4,623.4 L325.9,629.7 L326.4,636.1 L326.9,642.6 L327.4,649.1 L327.8,655.6 L328.3,662.0 L328.8,668.2 L329.3,674.2 L329.8,680.0 L330.3,685.3 L330.8,690.3 L331.3,694.9 L331.8,698.9 L332.3,702.5 L332.7,705.4 L333.2,707.8 L333.7,709.5 L334.2,710.6 L334.7,711.1 L335.2,710.9 L335.7,710.0 L336.2,708.6 L336.7,706.4 L337.2,703.7 L337.7,700.4 L338.1,696.6 L338.6,692.2 L339.1,687.4 L339.6,682.2 L340.1,676.6 L340.6,670.7 L341.1,664.5 L341.6,658.2 L342.1,651.7 L342.6,645.2 L343.1,638.7 L343.5,632.3 L344.0,625.9 L344.5,619.8 L345.0,614.0 L345.5,608.5 L346.0,603.3 L346.5,598.6 L347.0,594.3 L347.5,590.5 L348.0,587.3 L348.5,584.7 L348.9,582.7 L349.4,581.4 L349.9,580.6 L350.4,580.6 L350.9,581.1 L351.4,582.3 L351.9,584.2 L352.4,586.7 L352.9,589.7 L353.4,593.4 L353.8,597.5 L354.3,602.1 L354.8,607.2 L355.3,612.6 L355.8,618.4 L356.3,624.5 L356.8,630.7 L357.3,637.2 L357.8,643.7 L358.3,650.2 L358.8,656.7 L359.2,663.0 L359.7,669.3 L360.2,675.2 L360.7,680.9 L361.2,686.2 L361.7,691.1 L362.2,695.6 L362.7,699.6 L363.2,703.0 L363.7,705.9 L364.2,708.1 L364.6,709.7 L365.1,710.7 L365.6,711.1 L366.1,710.8 L366.6,709.8 L367.1,708.2 L367.6,706.0 L368.1,703.2 L368.6,699.8 L369.1,695.9 L369.6,691.5 L370.0,686.6 L370.5,681.3 L371.0,675.6 L371.5,669.7 L372.0,663.5 L372.5,657.1 L373.0,650.6 L373.5,644.1 L374.0,637.6 L374.5,631.2 L374.9,624.9 L375.4,618.8 L375.9,613.0 L376.4,607.6 L376.9,602.5 L377.4,597.8 L377.9,593.6 L378.4,590.0 L378.9,586.9 L379.4,584.4 L379.9,582.5 L380.3,581.2 L380.8,580.6 L381.3,580.6 L381.8,581.3 L382.3,582.6 L382.8,584.6 L383.3,587.1 L383.8,590.3 L384.3,594.0 L384.8,598.2 L385.3,602.9 L385.7,608.1 L386.2,613.6 L386.7,619.4 L387.2,625.5 L387.7,631.8 L388.2,638.3 L388.7,644.8 L389.2,651.3 L389.7,657.8 L390.2,664.1 L390.7,670.3 L391.1,676.2 L391.6,681.8 L392.1,687.1 L392.6,691.9 L393.1,696.3 L393.6,700.2 L394.1,703.5 L394.6,706.3 L395.1,708.4 L395.6,710.0 L396.0,710.9 L396.5,711.1 L397.0,710.7 L397.5,709.6 L398.0,707.9 L398.5,705.6 L399.0,702.7 L399.5,699.2 L400.0,695.2 L400.5,690.7 L401.0,685.7 L401.4,680.3 L401.9,674.6 L402.4,668.6 L402.9,662.4 L403.4,656.0 L403.9,649.5 L404.4,643.0 L404.9,636.5 L405.4,630.1 L405.9,623.9 L406.4,617.8 L406.8,612.1 L407.3,606.7 L407.8,601.6 L408.3,597.1 L408.8,593.0 L409.3,589.4 L409.8,586.4 L410.3,584.0 L410.8,582.2 L411.3,581.0 L411.8,580.5 L412.2,580.7 L412.7,581.5 L413.2,582.9 L413.7,585.0 L414.2,587.6 L414.7,590.9 L415.2,594.7 L415.7,599.0 L416.2,603.8 L416.7,609.0 L417.1,614.6 L417.6,620.4 L418.1,626.6 L418.6,632.9 L419.1,639.3 L419.6,645.9 L420.1,652.4 L420.6,658.8 L421.1,665.2 L421.6,671.3 L422.1,677.2 L422.5,682.7 L423.0,687.9 L423.5,692.7 L424.0,697.0 L424.5,700.8 L425.0,704.0 L425.5,706.7 L426.0,708.7 L426.5,710.2 L427.0,710.9 L427.5,711.1 L427.9,710.5 L428.4,709.4 L428.9,707.6 L429.4,705.1 L429.9,702.1 L430.4,698.6 L430.9,694.4 L431.4,689.9 L431.9,684.8 L432.4,679.4 L432.9,673.6 L433.3,667.6 L433.8,661.4 L434.3,655.0 L434.8,648.5 L435.3,641.9 L435.8,635.4 L436.3,629.1 L436.8,622.8 L437.3,616.8 L437.8,611.1 L438.2,605.8 L438.7,600.8 L439.2,596.3 L439.7,592.3 L440.2,588.9 L440.7,586.0 L441.2,583.6 L441.7,582.0 L442.2,580.9 L442.7,580.5 L443.2,580.8 L443.6,581.7 L444.1,583.2 L444.6,585.4 L445.1,588.1 L445.6,591.5 L446.1,595.4 L446.6,599.8 L447.1,604.6 L447.6,609.9 L448.1,615.5 L448.6,621.4 L449.0,627.6 L449.5,634.0 L450.0,640.4 L450.5,647.0 L451.0,653.5 L451.5,659.9 L452.0,666.2 L452.5,672.3 L453.0,678.1 L453.5,683.6 L454.0,688.7 L454.4,693.4 L454.9,697.7 L455.4,701.4 L455.9,704.5 L456.4,707.1 L456.9,709.0 L457.4,710.3 L457.9,711.0 L458.4,711.0 L458.9,710.4 L459.3,709.1 L459.8,707.2 L460.3,704.7 L460.8,701.6 L461.3,697.9 L461.8,693.7 L462.3,689.0 L462.8,683.9 L463.3,678.5 L463.8,672.7 L464.3,666.6 L464.7,660.3 L465.2,653.9 L465.7,647.4 L466.2,640.8 L466.7,634.4 L467.2,628.0 L467.7,621.8 L468.2,615.9 L468.7,610.2 L469.2,604.9 L469.7,600.1 L470.1,595.6 L470.6,591.7 L471.1,588.3 L471.6,585.5 L472.1,583.3 L472.6,581.7 L473.1,580.8 L473.6,580.5 L474.1,580.9 L474.6,581.9 L475.1,583.5 L475.5,585.8 L476.0,588.7 L476.5,592.1 L477.0,596.1 L477.5,600.6 L478.0,605.5 L478.5,610.8 L479.0,616.5 L479.5,622.5 L480.0,628.7 L480.4,635.0 L480.9,641.5 L481.4,648.1 L481.9,654.6 L482.4,661.0 L482.9,667.2 L483.4,673.3 L483.9,679.1 L484.4,684.5 L484.9,689.6 L485.4,694.2 L485.8,698.3 L486.3,701.9 L486.8,705.0 L487.3,707.4 L487.8,709.3 L488.3,710.5 L488.8,711.1 L489.3,711.0 L489.8,710.2 L490.3,708.8 L490.8,706.8 L491.2,704.2 L491.7,701.0 L492.2,697.2 L492.7,693.0 L493.2,688.2 L493.7,683.0 L494.2,677.5 L494.7,671.6 L495.2,665.5 L495.7,659.2 L496.2,652.8 L496.6,646.3 L497.1,639.7 L497.6,633.3 L498.1,626.9 L498.6,620.8 L499.1,614.9 L499.6,609.3 L500.1,604.1 L500.6,599.3 L501.1,594.9 L501.5,591.1 L502.0,587.8 L502.5,585.1 L503.0,583.0 L503.5,581.5 L504.0,580.7 L504.5,580.5 L505.0,581.0 L505.5,582.1 L506.0,583.9 L506.5,586.2 L506.9,589.2 L507.4,592.7 L507.9,596.8 L508.4,601.4 L508.9,606.4 L509.4,611.7 L509.9,617.5 L510.4,623.5 L510.9,629.7 L511.4,636.1 L511.9,642.6 L512.3,649.2 L512.8,655.6 L513.3,662.0 L513.8,668.3 L514.3,674.3 L514.8,680.0 L515.3,685.4 L515.8,690.4 L516.3,694.9 L516.8,699.0 L517.3,702.5 L517.7,705.4 L518.2,707.8 L518.7,709.5 L519.2,710.6 L519.7,711.1 L520.2,710.9 L520.7,710.0 L521.2,708.5 L521.7,706.4 L522.2,703.7 L522.6,700.4 L523.1,696.5 L523.6,692.2 L524.1,687.4 L524.6,682.1 L525.1,676.5 L525.6,670.6 L526.1,664.5 L526.6,658.1 L527.1,651.7 L527.6,645.2 L528.0,638.6 L528.5,632.2 L529.0,625.9 L529.5,619.8 L530.0,613.9 L530.5,608.4" stroke="#0000ff" stroke-width="1.7"/>
<path d="M39.8,586.4 L40.0,585.2 L40.3,584.0 L40.5,583.0 L40.8,582.2 L41.0,581.6 L41.3,581.1 L41.5,580.7 L41.8,580.5 L42.0,580.5 L42.3,580.7 L42.5,581.0 L42.7,581.4 L43.0,582.1 L43.2,582.9 L43.5,583.8 L43.7,584.9 L44.0,586.2 L44.2,587.6 L44.5,589.1 L44.7,590.8 L45.0,592.7 L45.2,594.6 L45.4,596.7 L45.7,598.9 L45.9,601.3 L46.2,603.7 L46.4,606.2 L46.7,608.9 L46.9,611.6 L47.2,614.4 L47.4,617.4 L47.7,620.3 L47.9,623.4 L48.1,626.5 L48.4,629.6 L48.6,632.8 L48.9,636.0 L49.1,639.2 L49.4,642.5 L49.6,645.7 L49.9,649.0 L50.1,652.3 L50.4,655.5 L50.6,658.7 L50.8,661.9 L51.1,665.0 L51.3,668.1 L51.6,671.2 L51.8,674.2 L52.1,677.1 L52.3,679.9 L52.6,682.6 L52.8,685.3 L53.0,687.8 L53.3,690.3 L53.5,692.6 L53.8,694.8 L54.0,696.9 L54.3,698.9 L54.5,700.7 L54.8,702.4 L55.0,704.0 L55.3,705.4 L55.5,706.6 L55.7,707.7 L56.0,708.7 L56.2,709.5 L56.5,710.1 L56.7,710.6 L57.0,710.9 L57.2,711.1 L57.5,711.1 L57.7,710.9 L58.0,710.6 L58.2,710.1 L58.4,709.4 L58.7,708.6 L58.9,707.6 L59.2,706.5 L59.4,705.2 L59.7,703.8 L59.9,702.2 L60.2,700.5 L60.4,698.6 L60.7,696.6 L60.9,694.5 L61.1,692.3 L61.4,689.9 L61.6,687.5 L61.9,684.9 L62.1,682.3 L62.4,679.5 L62.6,676.7 L62.9,673.8 L63.1,670.8 L63.4,667.7 L63.6,664.6 L63.8,661.5 L64.1,658.3 L64.3,655.1 L64.6,651.8 L64.8,648.6 L65.1,645.3 L65.3,642.0 L65.6,638.8 L65.8,635.6 L66.1,632.3 L66.3,629.2 L66.5,626.0 L66.8,622.9 L67.0,619.9 L67.3,617.0 L67.5,614.1 L67.8,611.2 L68.0,608.5 L68.3,605.9 L68.5,603.4 L68.8,600.9 L69.0,598.6 L69.2,596.4 L69.5,594.3 L69.7,592.4 L70.0,590.6 L70.2,588.9 L70.5,587.4 L70.7,586.0 L71.0,584.8 L71.2,583.7 L71.5,582.8 L71.7,582.0 L71.9,581.4 L72.2,580.9 L72.4,580.6 L72.7,580.5 L72.9,580.5 L73.2,580.7 L73.4,581.1 L73.7,581.6 L73.9,582.3 L74.1,583.2 L74.4,584.2 L74.6,585.3 L74.9,586.6 L75.1,588.1 L75.4,589.7 L75.6,591.4 L75.9,593.3 L76.1,595.3 L76.4,597.4 L76.6,599.7 L76.8,602.1 L77.1,604.5 L77.3,607.1 L77.6,609.8 L77.8,612.6 L78.1,615.4 L78.3,618.3 L78.6,621.3 L78.8,624.4 L79.1,627.5 L79.3,630.7 L79.5,633.9 L79.8,637.1 L80.0,640.3 L80.3,643.6 L80.5,646.8 L80.8,650.1 L81.0,653.4 L81.3,656.6 L81.5,659.8 L81.8,663.0 L82.0,666.1 L82.2,669.2 L82.5,672.2 L82.7,675.1 L83.0,678.0 L83.2,680.8 L83.5,683.5 L83.7,686.1 L84.0,688.7 L84.2,691.1 L84.5,693.4 L84.7,695.5 L84.9,697.6 L85.2,699.5 L85.4,701.3 L85.7,703.0 L85.9,704.5 L86.2,705.8 L86.4,707.0 L86.7,708.1 L86.9,709.0 L87.2,709.7 L87.4,710.3 L87.6,710.7 L87.9,711.0 L88.1,711.1 L88.4,711.0 L88.6,710.8 L88.9,710.4 L89.1,709.9 L89.4,709.1 L89.6,708.3 L89.9,707.2 L90.1,706.1 L90.3,704.7 L90.6,703.3 L90.8,701.6 L91.1,699.9 L91.3,698.0 L91.6,695.9 L91.8,693.8 L92.1,691.5 L92.3,689.1 L92.6,686.6 L92.8,684.0 L93.0,681.3 L93.3,678.6 L93.5,675.7 L93.8,672.8 L94.0,669.8 L94.3,666.7 L94.5,663.6 L94.8,660.4 L95.0,657.2 L95.2,654.0 L95.5,650.7 L95.7,647.5 L96.0,644.2 L96.2,640.9 L96.5,637.7 L96.7,634.5 L97.0,631.3 L97.2,628.1 L97.5,625.0 L97.7,621.9 L97.9,618.9 L98.2,616.0 L98.4,613.1 L98.7,610.3 L98.9,607.6 L99.2,605.0 L99.4,602.5 L99.7,600.1 L99.9,597.9 L100.2,595.7 L100.4,593.7 L100.6,591.8 L100.9,590.0 L101.1,588.4 L101.4,586.9 L101.6,585.6 L101.9,584.4 L102.1,583.4 L102.4,582.5 L102.6,581.8 L102.9,581.2 L103.1,580.8 L103.3,580.6 L103.6,580.5 L103.8,580.6 L104.1,580.9 L104.3,581.3 L104.6,581.9 L104.8,582.6 L105.1,583.5 L105.3,584.5 L105.6,585.8 L105.8,587.1 L106.0,588.6 L106.3,590.3 L106.5,592.0 L106.8,594.0 L107.0,596.0 L107.3,598.2 L107.5,600.5 L107.8,602.9 L108.0,605.4 L108.3,608.0 L108.5,610.7 L108.7,613.5 L109.0,616.4 L109.2,619.3 L109.5,622.4 L109.7,625.4 L110.0,628.6 L110.2,631.7 L110.5,634.9 L110.7,638.2 L111.0,641.4 L111.2,644.7 L111.4,647.9 L111.7,651.2 L111.9,654.4 L112.2,657.7 L112.4,660.9 L112.7,664.0 L112.9,667.1 L113.2,670.2 L113.4,673.2 L113.7,676.1 L113.9,679.0 L114.1,681.7 L114.4,684.4 L114.6,687.0 L114.9,689.5 L115.1,691.9 L115.4,694.1 L115.6,696.2 L115.9,698.3 L116.1,700.1 L116.3,701.9 L116.6,703.5 L116.8,704.9 L117.1,706.2 L117.3,707.4 L117.6,708.4 L117.8,709.3 L118.1,709.9 L118.3,710.5 L118.6,710.8 L118.8,711.0 L119.0,711.1 L119.3,711.0 L119.5,710.7 L119.8,710.2 L120.0,709.6 L120.3,708.9 L120.5,707.9 L120.8,706.9 L121.0,705.6 L121.3,704.2 L121.5,702.7 L121.7,701.1 L122.0,699.2 L122.2,697.3 L122.5,695.2 L122.7,693.0 L123.0,690.7 L123.2,688.3 L123.5,685.8 L123.7,683.1 L124.0,680.4 L124.2,677.6 L124.4,674.7 L124.7,671.8 L124.9,668.7 L125.2,665.6 L125.4,662.5 L125.7,659.3 L125.9,656.1 L126.2,652.9 L126.4,649.6 L126.7,646.4 L126.9,643.1 L127.1,639.9 L127.4,636.6 L127.6,633.4 L127.9,630.2 L128.1,627.1 L128.4,623.9 L128.6,620.9 L128.9,617.9 L129.1,615.0 L129.4,612.2 L129.6,609.4 L129.8,606.7 L130.1,604.2 L130.3,601.7 L130.6,599.4 L130.8,597.1 L131.1,595.0 L131.3,593.0 L131.6,591.2 L131.8,589.4 L132.1,587.9 L132.3,586.4 L132.5,585.2 L132.8,584.0 L133.0,583.0 L133.3,582.2 L133.5,581.6 L133.8,581.1 L134.0,580.7 L134.3,580.5 L134.5,580.5 L134.8,580.7 L135.0,581.0 L135.2,581.4 L135.5,582.1 L135.7,582.9 L136.0,583.8 L136.2,584.9 L136.5,586.2 L136.7,587.6 L137.0,589.1 L137.2,590.8 L137.4,592.7 L137.7,594.6 L137.9,596.7 L138.2,598.9 L138.4,601.3 L138.7,603.7 L138.9,606.3 L139.2,608.9 L139.4,611.7 L139.7,614.5 L139.9,617.4 L140.1,620.4 L140.4,623.4 L140.6,626.5 L140.9,629.6 L141.1,632.8 L141.4,636.0 L141.6,639.3 L141.9,642.5 L142.1,645.8 L142.4,649.0 L142.6,652.3 L142.8,655.5 L143.1,658.7 L143.3,661.9 L143.6,665.1 L143.8,668.2 L144.1,671.2 L144.3,674.2 L144.6,677.1 L144.8,679.9 L145.1,682.7 L145.3,685.3 L145.5,687.8 L145.8,690.3 L146.0,692.6 L146.3,694.8 L146.5,696.9 L146.8,698.9 L147.0,700.7 L147.3,702.4 L147.5,704.0 L147.8,705.4 L148.0,706.7 L148.2,707.8 L148.5,708.7 L148.7,709.5 L149.0,710.1 L149.2,710.6 L149.5,710.9 L149.7,711.1 L150.0,711.1 L150.2,710.9 L150.5,710.6 L150.7,710.1 L150.9,709.4 L151.2,708.6 L151.4,707.6 L151.7,706.5 L151.9,705.2 L152.2,703.8 L152.4,702.2 L152.7,700.5 L152.9,698.6 L153.2,696.6 L153.4,694.5 L153.6,692.3 L153.9,689.9 L154.1,687.5 L154.4,684.9 L154.6,682.2 L154.9,679.5 L155.1,676.6 L155.4,673.7 L155.6,670.7 L155.9,667.7 L156.1,664.6 L156.3,661.4 L156.6,658.3 L156.8,655.0 L157.1,651.8 L157.3,648.5 L157.6,645.3 L157.8,642.0 L158.1,638.8 L158.3,635.5 L158.5,632.3 L158.8,629.1 L159.0,626.0 L159.3,622.9 L159.5,619.9 L159.8,616.9 L160.0,614.0 L160.3,611.2 L160.5,608.5 L160.8,605.9 L161.0,603.3 L161.2,600.9 L161.5,598.6 L161.7,596.4 L162.0,594.3 L162.2,592.4 L162.5,590.6 L162.7,588.9 L163.0,587.4 L163.2,586.0 L163.5,584.8 L163.7,583.7 L163.9,582.7 L164.2,582.0 L164.4,581.4 L164.7,580.9 L164.9,580.6 L165.2,580.5 L165.4,580.5 L165.7,580.8 L165.9,581.1 L166.2,581.6 L166.4,582.3 L166.6,583.2 L166.9,584.2 L167.1,585.3 L167.4,586.6 L167.6,588.1 L167.9,589.7 L168.1,591.4 L168.4,593.3 L168.6,595.3 L168.9,597.5 L169.1,599.7 L169.3,602.1 L169.6,604.6 L169.8,607.1 L170.1,609.8 L170.3,612.6 L170.6,615.4 L170.8,618.4 L171.1,621.4 L171.3,624.4 L171.6,627.5 L171.8,630.7 L172.0,633.9 L172.3,637.1 L172.5,640.4 L172.8,643.6 L173.0,646.9 L173.3,650.1 L173.5,653.4 L173.8,656.6 L174.0,659.8 L174.3,663.0 L174.5,666.1 L174.7,669.2 L175.0,672.2 L175.2,675.2 L175.5,678.0 L175.7,680.8 L176.0,683.6 L176.2,686.2 L176.5,688.7 L176.7,691.1 L177.0,693.4 L177.2,695.6 L177.4,697.6 L177.7,699.5 L177.9,701.3 L178.2,703.0 L178.4,704.5 L178.7,705.8 L178.9,707.0 L179.2,708.1 L179.4,709.0 L179.6,709.7 L179.9,710.3 L180.1,710.7 L180.4,711.0 L180.6,711.1 L180.9,711.0 L181.1,710.8 L181.4,710.4 L181.6,709.9 L181.9,709.1 L182.1,708.3 L182.3,707.2 L182.6,706.1 L182.8,704.7 L183.1,703.2 L183.3,701.6 L183.6,699.9 L183.8,698.0 L184.1,695.9 L184.3,693.8 L184.6,691.5 L184.8,689.1 L185.0,686.6 L185.3,684.0 L185.5,681.3 L185.8,678.5 L186.0,675.7 L186.3,672.7 L186.5,669.7 L186.8,666.7 L187.0,663.5 L187.5,657.2 L188.0,650.7 L188.5,644.2 L189.0,637.7 L189.5,631.2 L190.0,625.0 L190.4,618.9 L190.9,613.1 L191.4,607.6 L191.9,602.5 L192.4,597.8 L192.9,593.7 L193.4,590.0 L193.9,586.9 L194.4,584.4 L194.9,582.5 L195.4,581.2 L195.8,580.6 L196.3,580.6 L196.8,581.3 L197.3,582.6 L197.8,584.6 L198.3,587.1 L198.8,590.3 L199.3,594.0 L199.8,598.2 L200.3,602.9 L200.7,608.0 L201.2,613.5 L201.7,619.4 L202.2,625.5 L202.7,631.8 L203.2,638.2 L203.7,644.7 L204.2,651.2 L204.7,657.7 L205.2,664.1 L205.7,670.2 L206.1,676.1 L206.6,681.8 L207.1,687.0 L207.6,691.9 L208.1,696.3 L208.6,700.1 L209.1,703.5 L209.6,706.3 L210.1,708.4 L210.6,710.0 L211.1,710.8 L211.5,711.1 L212.0,710.7 L212.5,709.6 L213.0,707.9 L213.5,705.6 L214.0,702.7 L214.5,699.2 L215.0,695.2 L215.5,690.7 L216.0,685.7 L216.5,680.4 L216.9,674.7 L217.4,668.7 L217.9,662.5 L218.4,656.1 L218.9,649.6 L219.4,643.1 L219.9,636.6 L220.4,630.2 L220.9,623.9 L221.4,617.9 L221.8,612.1 L222.3,606.7 L222.8,601.7 L223.3,597.1 L223.8,593.0 L224.3,589.4 L224.8,586.4 L225.3,584.0 L225.8,582.2 L226.3,581.0 L226.8,580.5 L227.2,580.7 L227.7,581.5 L228.2,582.9 L228.7,584.9 L229.2,587.6 L229.7,590.9 L230.2,594.7 L230.7,599.0 L231.2,603.7 L231.7,608.9 L232.2,614.5 L232.6,620.4 L233.1,626.5 L233.6,632.8 L234.1,639.3 L234.6,645.8 L235.1,652.3 L235.6,658.8 L236.1,665.1 L236.6,671.2 L237.1,677.1 L237.6,682.7 L238.0,687.9 L238.5,692.6 L239.0,697.0 L239.5,700.7 L240.0,704.0 L240.5,706.7 L241.0,708.7 L241.5,710.1 L242.0,710.9 L242.5,711.1 L242.9,710.6 L243.4,709.4 L243.9,707.6 L244.4,705.2 L244.9,702.2 L245.4,698.6 L245.9,694.5 L246.4,689.9 L246.9,684.9 L247.4,679.5 L247.9,673.7 L248.3,667.7 L248.8,661.4 L249.3,655.0 L249.8,648.5 L250.3,642.0 L250.8,635.5 L251.3,629.1 L251.8,622.9 L252.3,616.9 L252.8,611.2 L253.3,605.8 L253.7,600.9 L254.2,596.4 L254.7,592.4 L255.2,588.9 L255.7,586.0 L256.2,583.7 L256.7,582.0 L257.2,580.9 L257.7,580.5 L258.2,580.8 L258.7,581.7 L259.1,583.2 L259.6,585.3 L260.1,588.1 L260.6,591.5 L261.1,595.3 L261.6,599.7 L262.1,604.6 L262.6,609.8 L263.1,615.5 L263.6,621.4 L264.0,627.6 L264.5,633.9 L265.0,640.4 L265.5,646.9 L266.0,653.4 L266.5,659.9 L267.0,666.1 L267.5,672.2 L268.0,678.1 L268.5,683.6 L269.0,688.7 L269.4,693.4 L269.9,697.6 L270.4,701.3 L270.9,704.5 L271.4,707.1 L271.9,709.0 L272.4,710.3 L272.9,711.0 L273.4,711.0 L273.9,710.4 L274.4,709.1 L274.8,707.2 L275.3,704.7 L275.8,701.6 L276.3,697.9 L276.8,693.7 L277.3,689.1 L277.8,684.0 L278.3,678.5 L278.8,672.7 L279.3,666.6 L279.8,660.3 L280.2,653.9 L280.7,647.4 L281.2,640.9 L281.7,634.4 L282.2,628.0 L282.7,621.9 L283.2,615.9 L283.7,610.3 L284.2,605.0 L284.7,600.1 L285.1,595.7 L285.6,591.7 L286.1,588.4 L286.6,585.5 L287.1,583.3 L287.6,581.7 L288.1,580.8 L288.6,580.5 L289.1,580.9 L289.6,581.9 L290.1,583.5 L290.5,585.8 L291.0,588.6 L291.5,592.1 L292.0,596.0 L292.5,600.5 L293.0,605.4 L293.5,610.8 L294.0,616.4 L294.5,622.4 L295.0,628.6 L295.5,635.0 L295.9,641.5 L296.4,648.0 L296.9,654.5 L297.4,660.9 L297.9,667.2 L298.4,673.2 L298.9,679.0 L299.4,684.5 L299.9,689.5 L300.4,694.1 L300.9,698.3 L301.3,701.9 L301.8,705.0 L302.3,707.4 L302.8,709.3 L303.3,710.5 L303.8,711.1 L304.3,711.0 L304.8,710.2 L305.3,708.9 L305.8,706.8 L306.3,704.2 L306.7,701.0 L307.2,697.3 L307.7,693.0 L308.2,688.3 L308.7,683.1 L309.2,677.6 L309.7,671.7 L310.2,665.6 L310.7,659.3 L311.2,652.8 L311.6,646.3 L312.1,639.8 L312.6,633.3 L313.1,627.0 L313.6,620.8 L314.1,614.9 L314.6,609.4 L315.1,604.1 L315.6,599.3 L316.1,595.0 L316.6,591.1 L317.0,587.8 L317.5,585.1 L318.0,583.0 L318.5,581.5 L319.0,580.7 L319.5,580.5 L320.0,581.0 L320.5,582.1 L321.0,583.8 L321.5,586.2 L322.0,589.2 L322.4,592.7 L322.9,596.8 L323.4,601.3 L323.9,606.3 L324.4,611.7 L324.9,617.4 L325.4,623.4 L325.9,629.7 L326.4,636.1 L326.9,642.6 L327.4,649.1 L327.8,655.6 L328.3,662.0 L328.8,668.2 L329.3,674.2 L329.8,680.0 L330.3,685.3 L330.8,690.3 L331.3,694.9 L331.8,698.9 L332.3,702.5 L332.7,705.4 L333.2,707.8 L333.7,709.5 L334.2,710.6 L334.7,711.1 L335.2,710.9 L335.7,710.0 L336.2,708.6 L336.7,706.4 L337.2,703.7 L337.7,700.4 L338.1,696.6 L338.6,692.2 L339.1,687.4 L339.6,682.2 L340.1,676.6 L340.6,670.7 L341.1,664.5 L341.6,658.2 L342.1,651.7 L342.6,645.2 L343.1,638.7 L343.5,632.3 L344.0,625.9 L344.5,619.8 L345.0,614.0 L345.5,608.5 L346.0,603.3 L346.5,598.6 L347.0,594.3 L347.5,590.5 L348.0,587.3 L348.5,584.7 L348.9,582.7 L349.4,581.4 L349.9,580.6 L350.4,580.6 L350.9,581.1 L351.4,582.3 L351.9,584.2 L352.4,586.7 L352.9,589.7 L353.4,593.4 L353.8,597.5 L354.3,602.1 L354.8,607.2 L355.3,612.6 L355.8,618.4 L356.3,624.5 L356.8,630.7 L357.3,637.2 L357.8,643.7 L358.3,650.2 L358.8,656.7 L359.2,663.0 L359.7,669.3 L360.2,675.2 L360.7,680.9 L361.2,686.2 L361.7,691.1 L362.2,695.6 L362.7,699.6 L363.2,703.0 L363.7,705.9 L364.2,708.1 L364.6,709.7 L365.1,710.7 L365.6,711.1 L366.1,710.8 L366.6,709.8 L367.1,708.2 L367.6,706.0 L368.1,703.2 L368.6,699.8 L369.1,695.9 L369.6,691.5 L370.0,686.6 L370.5,681.3 L371.0,675.6 L371.5,669.7 L372.0,663.5 L372.5,657.1 L373.0,650.6 L373.5,644.1 L374.0,637.6 L374.5,631.2 L374.9,624.9 L375.4,618.8 L375.9,613.0 L376.4,607.6 L376.9,602.5 L377.4,597.8 L377.9,593.6 L378.4,590.0 L378.9,586.9 L379.4,584.4 L379.9,582.5 L380.3,581.2 L380.8,580.6 L381.3,580.6 L381.8,581.3 L382.3,582.6 L382.8,584.6 L383.3,587.1 L383.8,590.3 L384.3,594.0 L384.8,598.2 L385.3,602.9 L385.7,608.1 L386.2,613.6 L386.7,619.4 L387.2,625.5 L387.7,631.8 L388.2,638.3 L388.7,644.8 L389.2,651.3 L389.7,657.8 L390.2,664.1 L390.7,670.3 L391.1,676.2 L391.6,681.8 L392.1,687.1 L392.6,691.9 L393.1,696.3 L393.6,700.2 L394.1,703.5 L394.6,706.3 L395.1,708.4 L395.6,710.0 L396.0,710.9 L396.5,711.1 L397.0,710.7 L397.5,709.6 L398.0,707.9 L398.5,705.6 L399.0,702.7 L399.5,699.2 L400.0,695.2 L400.5,690.7 L401.0,685.7 L401.4,680.3 L401.9,674.6 L402.4,668.6 L402.9,662.4 L403.4,656.0 L403.9,649.5 L404.4,643.0 L404.9,636.5 L405.4,630.1 L405.9,623.9 L406.4,617.8 L406.8,612.1 L407.3,606.7 L407.8,601.6 L408.3,597.1 L408.8,593.0 L409.3,589.4 L409.8,586.4 L410.3,584.0 L410.8,582.2 L411.3,581.0 L411.8,580.5 L412.2,580.7 L412.7,581.5 L413.2,582.9 L413.7,585.0 L414.2,587.6 L414.7,590.9 L415.2,594.7 L415.7,599.0 L416.2,603.8 L416.7,609.0 L417.1,614.6 L417.6,620.4 L418.1,626.6 L418.6,632.9 L419.1,639.3 L419.6,645.9 L420.1,652.4 L420.6,658.8 L421.1,665.2 L421.6,671.3 L422.1,677.2 L422.5,682.7 L423.0,687.9 L423.5,692.7 L424.0,697.0 L424.5,700.8 L425.0,704.0 L425.5,706.7 L426.0,708.7 L426.5,710.2 L427.0,710.9 L427.5,711.1 L427.9,710.5 L428.4,709.4 L428.9,707.6 L429.4,705.1 L429.9,702.1 L430.4,698.6 L430.9,694.4 L431.4,689.9 L431.9,684.8 L432.4,679.4 L432.9,673.6 L433.3,667.6 L433.8,661.4 L434.3,655.0 L434.8,648.5 L435.3,641.9 L435.8,635.4 L436.3,629.1 L436.8,622.8 L437.3,616.8 L437.8,611.1 L438.2,605.8 L438.7,600.8 L439.2,596.3 L439.7,592.3 L440.2,588.9 L440.7,586.0 L441.2,583.6 L441.7,582.0 L442.2,580.9 L442.7,580.5 L443.2,580.8 L443.6,581.7 L444.1,583.2 L444.6,585.4 L445.1,588.1 L445.6,591.5 L446.1,595.4 L446.6,599.8 L447.1,604.6 L447.6,609.9 L448.1,615.5 L448.6,621.4 L449.0,627.6 L449.5,634.0 L450.0,640.4 L450.5,647.0 L451.0,653.5 L451.5,659.9 L452.0,666.2 L452.5,672.3 L453.0,678.1 L453.5,683.6 L454.0,688.7 L454.4,693.4 L454.9,697.7 L455.4,701.4 L455.9,704.5 L456.4,707.1 L456.9,709.0 L457.4,710.3 L457.9,711.0 L458.4,711.0 L458.9,710.4 L459.3,709.1 L459.8,707.2 L460.3,704.7 L460.8,701.6 L461.3,697.9 L461.8,693.7 L462.3,689.0 L462.8,683.9 L463.3,678.5 L463.8,672.7 L464.3,666.6 L464.7,660.3 L465.2,653.9 L465.7,647.4 L466.2,640.8 L466.7,634.4 L467.2,628.0 L467.7,621.8 L468.2,615.9 L468.7,610.2 L469.2,604.9 L469.7,600.1 L470.1,595.6 L470.6,591.7 L471.1,588.3 L471.6,585.5 L472.1,583.3 L472.6,581.7 L473.1,580.8 L473.6,580.5 L474.1,580.9 L474.6,581.9 L475.1,583.5 L475.5,585.8 L476.0,588.7 L476.5,592.1 L477.0,596.1 L477.5,600.6 L478.0,605.5 L478.5,610.8 L479.0,616.5 L479.5,622.5 L480.0,628.7 L480.4,635.0 L480.9,641.5 L481.4,648.1 L481.9,654.6 L482.4,661.0 L482.9,667.2 L483.4,673.3 L483.9,679.1 L484.4,684.5 L484.9,689.6 L485.4,694.2 L485.8,698.3 L486.3,701.9 L486.8,705.0 L487.3,707.4 L487.8,709.3 L488.3,710.5 L488.8,711.1 L489.3,711.0 L489.8,710.2 L490.3,708.8 L490.8,706.8 L491.2,704.2 L491.7,701.0 L492.2,697.2 L492.7,693.0 L493.2,688.2 L493.7,683.0 L494.2,677.5 L494.7,671.6 L495.2,665.5 L495.7,659.2 L496.2,652.8 L496.6,646.3 L497.1,639.7 L497.6,633.3 L498.1,626.9 L498.6,620.8 L499.1,614.9 L499.6,609.3 L500.1,604.1 L500.6,599.3 L501.1,594.9 L501.5,591.1 L502.0,587.8 L502.5,585.1 L503.0,583.0 L503.5,581.5 L504.0,580.7 L504.5,580.5 L505.0,581.0 L505.5,582.1 L506.0,583.9 L506.5,586.2 L506.9,589.2 L507.4,592.7 L507.9,596.8 L508.4,601.4 L508.9,606.4 L509.4,611.7 L509.9,617.5 L510.4,623.5 L510.9,629.7 L511.4,636.1 L511.9,642.6 L512.3,649.2 L512.8,655.6 L513.3,662.0 L513.8,668.3 L514.3,674.3 L514.8,680.0 L515.3,685.4 L515.8,690.4 L516.3,694.9 L516.8,699.0 L517.3,702.5 L517.7,705.4 L518.2,707.8 L518.7,709.5 L519.2,710.6 L519.7,711.1 L520.2,710.9 L520.7,710.0 L521.2,708.5 L521.7,706.4 L522.2,703.7 L522.6,700.4 L523.1,696.5 L523.6,692.2 L524.1,687.4 L524.6,682.1 L525.1,676.5 L525.6,670.6 L526.1,664.5 L526.6,658.1 L527.1,651.7 L527.6,645.2 L528.0,638.6 L528.5,632.2 L529.0,625.9 L529.5,619.8 L530.0,613.9 L530.5,608.4" stroke="#ff0000" stroke-width="1.7" stroke-dasharray="10.5 5.8"/>
</g>
<g stroke="#3a3a3a" stroke-width="1.15" fill="none">
<rect x="39.8" y="473.4" width="490.7" height="344.80000000000007"/>
<path stroke="#3a3a3a" stroke-width="0.95" d="M88.87,818.2v-4.8M88.87,473.4v4.8M137.94,818.2v-4.8M137.94,473.4v4.8M187.01,818.2v-4.8M187.01,473.4v4.8M236.08,818.2v-4.8M236.08,473.4v4.8M285.15,818.2v-4.8M285.15,473.4v4.8M334.22,818.2v-4.8M334.22,473.4v4.8M383.29,818.2v-4.8M383.29,473.4v4.8M432.36,818.2v-4.8M432.36,473.4v4.8M481.43,818.2v-4.8M481.43,473.4v4.8M39.8,516.50h4.8M530.5,516.50h-4.8M39.8,559.60h4.8M530.5,559.60h-4.8M39.8,602.70h4.8M530.5,602.70h-4.8M39.8,645.80h4.8M530.5,645.80h-4.8M39.8,688.90h4.8M530.5,688.90h-4.8M39.8,732.00h4.8M530.5,732.00h-4.8M39.8,775.10h4.8M530.5,775.10h-4.8"/>
</g>
<g font-family="'DejaVu Serif','Liberation Serif',serif" font-size="12.0" fill="#262626" stroke="#262626" stroke-width="0.2">
<text x="39.8" y="835.2" text-anchor="middle">0</text>
<text x="88.9" y="835.2" text-anchor="middle">10</text>
<text x="137.9" y="835.2" text-anchor="middle">20</text>
<text x="187.0" y="835.2" text-anchor="middle">30</text>
<text x="236.1" y="835.2" text-anchor="middle">40</text>
<text x="285.1" y="835.2" text-anchor="middle">50</text>
<text x="334.2" y="835.2" text-anchor="middle">60</text>
<text x="383.3" y="835.2" text-anchor="middle">70</text>
<text x="432.4" y="835.2" text-anchor="middle">80</text>
<text x="481.4" y="835.2" text-anchor="middle">90</text>
<text x="530.5" y="835.2" text-anchor="middle">100</text>
<text x="33.8" y="477.6" text-anchor="end">0.8</text>
<text x="33.8" y="520.7" text-anchor="end">0.6</text>
<text x="33.8" y="563.8" text-anchor="end">0.4</text>
<text x="33.8" y="606.9" text-anchor="end">0.2</text>
<text x="33.8" y="650.0" text-anchor="end">0</text>
<text x="33.8" y="693.1" text-anchor="end">-0.2</text>
<text x="33.8" y="736.2" text-anchor="end">-0.4</text>
<text x="33.8" y="779.3" text-anchor="end">-0.6</text>
<text x="33.8" y="822.4" text-anchor="end">-0.8</text>
</g>
<text x="255.4" y="856.1" textLength="59.6" lengthAdjust="spacingAndGlyphs" font-family="'Liberation Sans','DejaVu Sans',sans-serif" font-size="15" fill="#262626" stroke="#262626" stroke-width="0.25">Time (s)</text>
<rect x="443.4" y="484.09999999999997" width="75.10000000000002" height="43.30000000000001" fill="#fff" stroke="#3a3a3a" stroke-width="1.0"/>
<path d="M448,495.9H492.9" stroke="#0000ff" stroke-width="1.7"/>
<path d="M448,516.0H492.9" stroke="#ff0000" stroke-width="1.7" stroke-dasharray="11 7.1"/>
<g font-family="'DejaVu Serif','Liberation Serif',serif" fill="#000" stroke="#000" stroke-width="0.3">
<text transform="translate(496.4,499.8) scale(1.35,1)" font-size="14" font-style="italic">x</text>
<text x="506.4" y="502.6" font-size="10.2">2</text>
<text transform="translate(496.4,519.9) scale(1.17,1)" font-size="14" font-style="italic">r</text>
<text x="503.8" y="522.7" font-size="10.2">2</text>
</g>
<g font-family="'DejaVu Serif','Liberation Serif',serif" font-size="17.8" fill="#000">
<text x="24.8" y="433.8" textLength="22.6" lengthAdjust="spacingAndGlyphs">(<tspan font-weight="bold">a</tspan>)</text>
<text x="53.2" y="433.8" textLength="34.8" lengthAdjust="spacingAndGlyphs">The</text>
<text x="94.8" y="433.8" textLength="63.9" lengthAdjust="spacingAndGlyphs">system</text>
<text x="165.5" y="433.8" textLength="42.8" lengthAdjust="spacingAndGlyphs">state</text>
<text x="214.2" y="433.8" textLength="10.0" lengthAdjust="spacingAndGlyphs" font-style="italic">x</text>
<text x="240.5" y="433.8" textLength="34.4" lengthAdjust="spacingAndGlyphs">and</text>
<text x="282.4" y="433.8" textLength="28.5" lengthAdjust="spacingAndGlyphs">the</text>
<text x="316.1" y="433.8" textLength="84.2" lengthAdjust="spacingAndGlyphs">reference</text>
<text x="408.0" y="433.8" textLength="83.3" lengthAdjust="spacingAndGlyphs">trajectory</text>
<text x="497.6" y="433.8" textLength="8.4" lengthAdjust="spacingAndGlyphs" font-style="italic">r</text>
<text x="517.6" y="433.8" textLength="4.5" lengthAdjust="spacingAndGlyphs">.</text>
<text x="224.9" y="438.1" font-size="13">1</text>
<text x="507.0" y="438.1" font-size="13">1</text>
</g>
<g font-family="'DejaVu Serif','Liberation Serif',serif" font-size="17.8" fill="#000">
<text x="23.3" y="888.8" textLength="25.6" lengthAdjust="spacingAndGlyphs">(<tspan font-weight="bold">b</tspan>)</text>
<text x="54.5" y="888.8" textLength="34.8" lengthAdjust="spacingAndGlyphs">The</text>
<text x="96.1" y="888.8" textLength="63.9" lengthAdjust="spacingAndGlyphs">system</text>
<text x="166.8" y="888.8" textLength="42.8" lengthAdjust="spacingAndGlyphs">state</text>
<text x="215.5" y="888.8" textLength="10.0" lengthAdjust="spacingAndGlyphs" font-style="italic">x</text>
<text x="241.8" y="888.8" textLength="34.4" lengthAdjust="spacingAndGlyphs">and</text>
<text x="283.7" y="888.8" textLength="28.5" lengthAdjust="spacingAndGlyphs">the</text>
<text x="317.4" y="888.8" textLength="84.2" lengthAdjust="spacingAndGlyphs">reference</text>
<text x="409.3" y="888.8" textLength="83.3" lengthAdjust="spacingAndGlyphs">trajectory</text>
<text x="498.9" y="888.8" textLength="8.4" lengthAdjust="spacingAndGlyphs" font-style="italic">r</text>
<text x="518.9" y="888.8" textLength="4.5" lengthAdjust="spacingAndGlyphs">.</text>
<text x="226.2" y="893.1" font-size="13">2</text>
<text x="508.3" y="893.1" font-size="13">2</text>
</g>
</svg>
</body></html>
